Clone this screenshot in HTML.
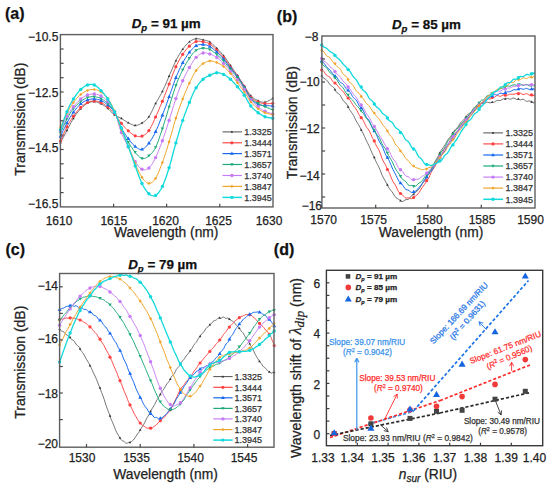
<!DOCTYPE html>
<html><head><meta charset="utf-8"><style>
html,body{margin:0;padding:0;background:#fff;}
svg{display:block;font-family:"Liberation Sans",sans-serif;}
</style></head><body>
<svg width="550" height="488" viewBox="0 0 550 488">
<rect width="550" height="488" fill="#fff"/>
<defs><clipPath id="ca"><rect x="60.5" y="34.3" width="212.2" height="173"/></clipPath><clipPath id="cb"><rect x="321.7" y="36" width="213.3" height="171.8"/></clipPath><clipPath id="cc"><rect x="59.6" y="273.5" width="214.4" height="173.6"/></clipPath></defs>
<text x="5.0" y="18.5" font-size="16.00" text-anchor="start" fill="#111" font-weight="bold" stroke="#111" stroke-width="0.25">(a)</text>
<text x="166.2" y="28.1" font-size="13.4" font-weight="bold" text-anchor="middle" fill="#111" stroke="#111" stroke-width="0.25"><tspan font-style="italic">D</tspan><tspan font-style="italic" font-size="9.6" dy="3">p</tspan><tspan dy="-3"> = 91 µm</tspan></text>
<polyline points="60.5,142.7 61.2,141.4 62.2,139.5 63.3,137.4 64.5,135.0 65.8,132.7 66.9,130.5 68.0,128.4 69.0,126.4 70.1,124.3 71.2,122.3 72.3,120.3 73.4,118.4 74.6,116.6 75.8,114.8 77.0,113.1 78.3,111.5 79.5,110.0 80.7,108.7 81.9,107.5 83.0,106.4 84.1,105.5 85.3,104.7 86.4,103.9 87.5,103.3 88.6,102.8 89.8,102.3 90.9,102.0 92.0,101.8 93.2,101.7 94.3,101.7 95.4,101.8 96.5,102.0 97.7,102.4 98.8,102.8 99.9,103.3 101.0,103.8 102.1,104.4 103.3,105.1 104.4,105.8 105.5,106.6 106.7,107.5 107.8,108.4 108.9,109.4 110.1,110.6 111.2,111.8 112.3,113.0 113.5,114.1 114.6,115.0 115.7,115.7 116.9,116.3 118.0,116.8 119.1,117.3 120.3,117.8 121.4,118.4 122.5,119.1 123.7,119.9 124.8,120.7 126.0,121.4 127.1,122.2 128.3,122.8 129.5,123.4 130.6,124.0 131.8,124.5 132.9,125.0 134.1,125.3 135.2,125.4 136.3,125.3 137.5,125.1 138.6,124.8 139.7,124.3 140.9,123.7 142.0,123.0 143.1,122.3 144.3,121.5 145.5,120.6 146.6,119.5 147.8,118.3 148.9,116.8 150.0,115.0 151.1,112.8 152.3,110.5 153.4,108.1 154.5,105.7 155.6,103.5 156.7,101.5 157.9,99.5 159.0,97.6 160.1,95.6 161.3,93.6 162.4,91.4 163.5,89.0 164.6,86.5 165.8,84.0 166.9,81.3 168.0,78.7 169.1,76.1 170.2,73.5 171.4,70.9 172.5,68.2 173.6,65.6 174.8,63.1 175.9,60.8 177.0,58.6 178.2,56.5 179.3,54.6 180.4,52.7 181.6,50.9 182.7,49.3 183.8,47.8 184.9,46.3 186.1,45.0 187.2,43.8 188.3,42.7 189.4,41.8 190.5,41.0 191.6,40.3 192.7,39.7 193.8,39.3 195.0,38.9 196.1,38.7 197.3,38.6 198.4,38.8 199.6,39.0 200.8,39.3 201.9,39.6 203.1,39.9 204.2,40.1 205.3,40.3 206.5,40.6 207.6,40.9 208.7,41.3 209.8,41.9 210.9,42.7 212.1,43.6 213.2,44.7 214.4,45.9 215.5,47.0 216.7,48.2 217.8,49.4 219.0,50.5 220.1,51.7 221.3,53.0 222.4,54.3 223.6,55.7 224.8,57.2 225.9,58.8 227.1,60.4 228.2,62.1 229.3,63.8 230.5,65.5 231.7,67.1 232.8,68.8 233.9,70.5 235.1,72.1 236.2,73.8 237.4,75.5 238.6,77.2 239.7,79.0 240.9,80.8 242.0,82.5 243.2,84.3 244.3,86.0 245.4,87.7 246.5,89.5 247.5,91.2 248.6,92.8 249.7,94.4 250.8,95.7 252.0,96.8 253.2,97.8 254.4,98.7 255.7,99.5 256.9,100.1 258.1,100.7 259.3,101.2 260.4,101.7 261.5,102.0 262.7,102.2 263.8,102.3 265.0,102.2 266.3,101.8 267.8,101.2 269.3,100.4 270.7,99.7 271.9,99.0 272.7,98.5" fill="none" stroke="#505050" stroke-width="0.80" stroke-linejoin="round" clip-path="url(#ca)"/>
<path d="M60.5 141.3l1.3 2.2h-2.6z" fill="#333"/>
<path d="M66.9 129.1l1.3 2.2h-2.6z" fill="#333"/>
<path d="M73.4 117.0l1.3 2.2h-2.6z" fill="#333"/>
<path d="M80.7 107.3l1.3 2.2h-2.6z" fill="#333"/>
<path d="M87.5 101.9l1.3 2.2h-2.6z" fill="#333"/>
<path d="M94.3 100.3l1.3 2.2h-2.6z" fill="#333"/>
<path d="M101.0 102.4l1.3 2.2h-2.6z" fill="#333"/>
<path d="M107.8 107.0l1.3 2.2h-2.6z" fill="#333"/>
<path d="M114.6 113.6l1.3 2.2h-2.6z" fill="#333"/>
<path d="M121.4 117.0l1.3 2.2h-2.6z" fill="#333"/>
<path d="M128.3 121.4l1.3 2.2h-2.6z" fill="#333"/>
<path d="M135.2 124.0l1.3 2.2h-2.6z" fill="#333"/>
<path d="M142.0 121.6l1.3 2.2h-2.6z" fill="#333"/>
<path d="M148.9 115.4l1.3 2.2h-2.6z" fill="#333"/>
<path d="M155.6 102.1l1.3 2.2h-2.6z" fill="#333"/>
<path d="M162.4 90.0l1.3 2.2h-2.6z" fill="#333"/>
<path d="M169.1 74.7l1.3 2.2h-2.6z" fill="#333"/>
<path d="M175.9 59.4l1.3 2.2h-2.6z" fill="#333"/>
<path d="M182.7 47.9l1.3 2.2h-2.6z" fill="#333"/>
<path d="M189.4 40.4l1.3 2.2h-2.6z" fill="#333"/>
<path d="M196.1 37.3l1.3 2.2h-2.6z" fill="#333"/>
<path d="M203.1 38.5l1.3 2.2h-2.6z" fill="#333"/>
<path d="M209.8 40.5l1.3 2.2h-2.6z" fill="#333"/>
<path d="M216.7 46.8l1.3 2.2h-2.6z" fill="#333"/>
<path d="M223.6 54.3l1.3 2.2h-2.6z" fill="#333"/>
<path d="M230.5 64.1l1.3 2.2h-2.6z" fill="#333"/>
<path d="M237.4 74.1l1.3 2.2h-2.6z" fill="#333"/>
<path d="M244.3 84.6l1.3 2.2h-2.6z" fill="#333"/>
<path d="M250.8 94.3l1.3 2.2h-2.6z" fill="#333"/>
<path d="M258.1 99.3l1.3 2.2h-2.6z" fill="#333"/>
<path d="M265.0 100.8l1.3 2.2h-2.6z" fill="#333"/>
<path d="M272.7 97.1l1.3 2.2h-2.6z" fill="#333"/>
<polyline points="60.5,141.0 61.2,139.4 62.2,137.2 63.3,134.6 64.5,131.8 65.8,129.1 66.9,126.8 68.0,124.8 69.0,122.9 70.1,121.2 71.2,119.5 72.3,117.8 73.4,116.2 74.6,114.6 75.8,113.0 77.0,111.4 78.3,110.0 79.5,108.6 80.7,107.4 81.9,106.3 83.0,105.4 84.1,104.5 85.3,103.7 86.4,103.1 87.5,102.5 88.6,102.0 89.8,101.6 90.9,101.3 92.0,101.2 93.2,101.0 94.3,101.0 95.4,101.0 96.5,101.2 97.7,101.4 98.8,101.7 99.9,102.0 101.0,102.5 102.1,103.1 103.3,103.7 104.4,104.4 105.5,105.2 106.7,106.1 107.8,107.0 108.9,107.9 110.1,108.9 111.2,109.9 112.3,111.0 113.5,112.2 114.6,113.5 115.7,115.0 116.9,116.6 118.0,118.3 119.1,120.1 120.3,121.8 121.4,123.3 122.5,124.7 123.7,126.1 124.8,127.4 126.0,128.6 127.1,129.7 128.3,130.8 129.5,131.8 130.6,132.8 131.8,133.8 132.9,134.6 134.1,135.3 135.2,135.8 136.3,136.2 137.5,136.5 138.6,136.6 139.7,136.6 140.9,136.4 142.0,136.1 143.1,135.6 144.3,135.0 145.5,134.2 146.6,133.2 147.8,132.1 148.9,130.6 150.0,128.8 151.1,126.7 152.3,124.4 153.4,122.0 154.5,119.5 155.6,117.0 156.7,114.5 157.9,112.0 159.0,109.4 160.1,106.7 161.3,104.0 162.4,101.3 163.5,98.5 164.6,95.7 165.8,92.7 166.9,89.8 168.0,86.9 169.1,84.0 170.2,81.1 171.4,78.1 172.5,75.0 173.6,72.1 174.8,69.3 175.9,66.7 177.0,64.3 178.2,62.0 179.3,59.9 180.4,57.9 181.6,56.1 182.7,54.3 183.8,52.7 184.9,51.2 186.1,49.8 187.2,48.5 188.3,47.3 189.4,46.2 190.5,45.2 191.6,44.2 192.7,43.3 193.8,42.6 195.0,42.0 196.1,41.5 197.3,41.2 198.4,41.2 199.6,41.2 200.8,41.4 201.9,41.6 203.1,41.8 204.2,42.0 205.3,42.3 206.5,42.5 207.6,42.9 208.7,43.4 209.8,44.0 210.9,44.8 212.1,45.7 213.2,46.7 214.4,47.7 215.5,48.9 216.7,50.0 217.8,51.1 219.0,52.3 220.1,53.5 221.3,54.8 222.4,56.1 223.6,57.5 224.8,59.0 225.9,60.5 227.1,62.2 228.2,63.8 229.3,65.4 230.5,67.0 231.7,68.5 232.8,70.0 233.9,71.4 235.1,72.9 236.2,74.4 237.4,76.0 238.6,77.7 239.7,79.4 240.9,81.1 242.0,82.9 243.2,84.7 244.3,86.5 245.4,88.4 246.5,90.3 247.5,92.3 248.6,94.1 249.7,95.8 250.8,97.3 252.0,98.5 253.2,99.4 254.4,100.2 255.7,100.9 256.9,101.5 258.1,102.0 259.3,102.5 260.4,102.9 261.5,103.2 262.7,103.4 263.8,103.6 265.0,103.7 266.3,103.8 267.8,103.7 269.3,103.6 270.7,103.5 271.9,103.4 272.7,103.3" fill="none" stroke="#ff4040" stroke-width="0.95" stroke-linejoin="round" clip-path="url(#ca)"/>
<circle cx="60.5" cy="141.0" r="1.6" fill="#ff4040"/>
<circle cx="66.9" cy="126.8" r="1.6" fill="#ff4040"/>
<circle cx="73.4" cy="116.2" r="1.6" fill="#ff4040"/>
<circle cx="80.7" cy="107.4" r="1.6" fill="#ff4040"/>
<circle cx="87.5" cy="102.5" r="1.6" fill="#ff4040"/>
<circle cx="94.3" cy="101.0" r="1.6" fill="#ff4040"/>
<circle cx="101.0" cy="102.5" r="1.6" fill="#ff4040"/>
<circle cx="107.8" cy="107.0" r="1.6" fill="#ff4040"/>
<circle cx="114.6" cy="113.5" r="1.6" fill="#ff4040"/>
<circle cx="121.4" cy="123.3" r="1.6" fill="#ff4040"/>
<circle cx="128.3" cy="130.8" r="1.6" fill="#ff4040"/>
<circle cx="135.2" cy="135.8" r="1.6" fill="#ff4040"/>
<circle cx="142.0" cy="136.1" r="1.6" fill="#ff4040"/>
<circle cx="148.9" cy="130.6" r="1.6" fill="#ff4040"/>
<circle cx="155.6" cy="117.0" r="1.6" fill="#ff4040"/>
<circle cx="162.4" cy="101.3" r="1.6" fill="#ff4040"/>
<circle cx="169.1" cy="84.0" r="1.6" fill="#ff4040"/>
<circle cx="175.9" cy="66.7" r="1.6" fill="#ff4040"/>
<circle cx="182.7" cy="54.3" r="1.6" fill="#ff4040"/>
<circle cx="189.4" cy="46.2" r="1.6" fill="#ff4040"/>
<circle cx="196.1" cy="41.5" r="1.6" fill="#ff4040"/>
<circle cx="203.1" cy="41.8" r="1.6" fill="#ff4040"/>
<circle cx="209.8" cy="44.0" r="1.6" fill="#ff4040"/>
<circle cx="216.7" cy="50.0" r="1.6" fill="#ff4040"/>
<circle cx="223.6" cy="57.5" r="1.6" fill="#ff4040"/>
<circle cx="230.5" cy="67.0" r="1.6" fill="#ff4040"/>
<circle cx="237.4" cy="76.0" r="1.6" fill="#ff4040"/>
<circle cx="244.3" cy="86.5" r="1.6" fill="#ff4040"/>
<circle cx="250.8" cy="97.3" r="1.6" fill="#ff4040"/>
<circle cx="258.1" cy="102.0" r="1.6" fill="#ff4040"/>
<circle cx="265.0" cy="103.7" r="1.6" fill="#ff4040"/>
<circle cx="272.7" cy="103.3" r="1.6" fill="#ff4040"/>
<polyline points="60.5,136.3 61.2,134.8 62.2,132.8 63.3,130.3 64.5,127.7 65.8,125.2 66.9,123.0 68.0,121.0 69.0,119.2 70.1,117.3 71.2,115.6 72.3,113.9 73.4,112.3 74.6,110.7 75.8,109.2 77.0,107.7 78.3,106.3 79.5,105.0 80.7,103.9 81.9,103.0 83.0,102.2 84.1,101.5 85.3,100.9 86.4,100.4 87.5,100.0 88.6,99.6 89.8,99.4 90.9,99.2 92.0,99.0 93.2,99.0 94.3,99.0 95.4,99.1 96.5,99.2 97.7,99.4 98.8,99.7 99.9,100.0 101.0,100.5 102.1,101.0 103.3,101.7 104.4,102.4 105.5,103.2 106.7,104.0 107.8,105.0 108.9,106.0 110.1,107.0 111.2,108.1 112.3,109.3 113.5,110.8 114.6,112.5 115.7,114.7 116.9,117.3 118.0,120.0 119.1,122.9 120.3,125.6 121.4,128.0 122.5,130.1 123.7,132.0 124.8,133.8 126.0,135.5 127.1,137.1 128.3,138.7 129.5,140.2 130.6,141.7 131.8,143.1 132.9,144.4 134.1,145.5 135.2,146.5 136.3,147.4 137.5,148.2 138.6,148.8 139.7,149.3 140.9,149.5 142.0,149.4 143.1,149.0 144.3,148.2 145.5,147.2 146.6,146.0 147.8,144.6 148.9,143.2 150.0,141.6 151.1,139.9 152.3,138.1 153.4,136.1 154.5,134.0 155.6,131.7 156.7,129.3 157.9,126.6 159.0,123.9 160.1,121.0 161.3,118.1 162.4,115.2 163.5,112.3 164.6,109.2 165.8,106.2 166.9,103.1 168.0,99.9 169.1,96.8 170.2,93.6 171.4,90.3 172.5,87.0 173.6,83.8 174.8,80.6 175.9,77.7 177.0,74.9 178.2,72.3 179.3,69.7 180.4,67.3 181.6,65.0 182.7,62.8 183.8,60.8 184.9,58.9 186.1,57.1 187.2,55.4 188.3,53.9 189.4,52.4 190.5,51.0 191.6,49.7 192.7,48.5 193.8,47.4 195.0,46.4 196.1,45.7 197.3,45.2 198.4,44.8 199.6,44.6 200.8,44.5 201.9,44.5 203.1,44.6 204.2,44.7 205.3,44.9 206.5,45.1 207.6,45.5 208.7,45.9 209.8,46.5 210.9,47.2 212.1,48.0 213.2,48.9 214.4,49.9 215.5,51.0 216.7,52.0 217.8,53.1 219.0,54.1 220.1,55.3 221.3,56.5 222.4,57.7 223.6,59.0 224.8,60.4 225.9,61.9 227.1,63.4 228.2,65.0 229.3,66.5 230.5,68.0 231.7,69.4 232.8,70.8 233.9,72.1 235.1,73.5 236.2,75.0 237.4,76.5 238.6,78.2 239.7,79.9 240.9,81.7 242.0,83.6 243.2,85.5 244.3,87.3 245.4,89.2 246.5,91.2 247.5,93.2 248.6,95.1 249.7,96.9 250.8,98.5 252.0,99.9 253.2,101.1 254.4,102.1 255.7,103.1 256.9,103.8 258.1,104.5 259.3,105.0 260.4,105.2 261.5,105.3 262.7,105.4 263.8,105.4 265.0,105.5 266.3,105.6 267.8,105.7 269.3,105.8 270.7,105.9 271.9,106.0 272.7,106.0" fill="none" stroke="#1769f0" stroke-width="1.00" stroke-linejoin="round" clip-path="url(#ca)"/>
<path d="M60.5 134.2l2.0 3.3h-3.9z" fill="#1769f0"/>
<path d="M66.9 120.9l2.0 3.3h-3.9z" fill="#1769f0"/>
<path d="M73.4 110.2l2.0 3.3h-3.9z" fill="#1769f0"/>
<path d="M80.7 101.8l2.0 3.3h-3.9z" fill="#1769f0"/>
<path d="M87.5 97.9l2.0 3.3h-3.9z" fill="#1769f0"/>
<path d="M94.3 96.9l2.0 3.3h-3.9z" fill="#1769f0"/>
<path d="M101.0 98.4l2.0 3.3h-3.9z" fill="#1769f0"/>
<path d="M107.8 102.9l2.0 3.3h-3.9z" fill="#1769f0"/>
<path d="M114.6 110.4l2.0 3.3h-3.9z" fill="#1769f0"/>
<path d="M121.4 125.9l2.0 3.3h-3.9z" fill="#1769f0"/>
<path d="M128.3 136.6l2.0 3.3h-3.9z" fill="#1769f0"/>
<path d="M135.2 144.4l2.0 3.3h-3.9z" fill="#1769f0"/>
<path d="M142.0 147.3l2.0 3.3h-3.9z" fill="#1769f0"/>
<path d="M148.9 141.1l2.0 3.3h-3.9z" fill="#1769f0"/>
<path d="M155.6 129.6l2.0 3.3h-3.9z" fill="#1769f0"/>
<path d="M162.4 113.1l2.0 3.3h-3.9z" fill="#1769f0"/>
<path d="M169.1 94.7l2.0 3.3h-3.9z" fill="#1769f0"/>
<path d="M175.9 75.6l2.0 3.3h-3.9z" fill="#1769f0"/>
<path d="M182.7 60.7l2.0 3.3h-3.9z" fill="#1769f0"/>
<path d="M189.4 50.3l2.0 3.3h-3.9z" fill="#1769f0"/>
<path d="M196.1 43.6l2.0 3.3h-3.9z" fill="#1769f0"/>
<path d="M203.1 42.5l2.0 3.3h-3.9z" fill="#1769f0"/>
<path d="M209.8 44.4l2.0 3.3h-3.9z" fill="#1769f0"/>
<path d="M216.7 49.9l2.0 3.3h-3.9z" fill="#1769f0"/>
<path d="M223.6 56.9l2.0 3.3h-3.9z" fill="#1769f0"/>
<path d="M230.5 65.9l2.0 3.3h-3.9z" fill="#1769f0"/>
<path d="M237.4 74.4l2.0 3.3h-3.9z" fill="#1769f0"/>
<path d="M244.3 85.2l2.0 3.3h-3.9z" fill="#1769f0"/>
<path d="M250.8 96.4l2.0 3.3h-3.9z" fill="#1769f0"/>
<path d="M258.1 102.4l2.0 3.3h-3.9z" fill="#1769f0"/>
<path d="M265.0 103.4l2.0 3.3h-3.9z" fill="#1769f0"/>
<path d="M272.7 103.9l2.0 3.3h-3.9z" fill="#1769f0"/>
<polyline points="60.5,132.8 61.2,131.2 62.2,129.1 63.3,126.5 64.5,123.8 65.8,121.2 66.9,118.9 68.0,117.0 69.0,115.1 70.1,113.4 71.2,111.7 72.3,110.2 73.4,108.7 74.6,107.3 75.8,106.0 77.0,104.7 78.3,103.6 79.5,102.5 80.7,101.5 81.9,100.6 83.0,99.8 84.1,99.1 85.3,98.5 86.4,97.9 87.5,97.5 88.6,97.2 89.8,96.9 90.9,96.8 92.0,96.7 93.2,96.7 94.3,96.8 95.4,96.9 96.5,97.1 97.7,97.3 98.8,97.6 99.9,98.0 101.0,98.5 102.1,99.1 103.3,99.8 104.4,100.6 105.5,101.5 106.7,102.4 107.8,103.5 108.9,104.6 110.1,105.7 111.2,106.9 112.3,108.3 113.5,110.0 114.6,112.0 115.7,114.5 116.9,117.5 118.0,120.8 119.1,124.1 120.3,127.2 121.4,130.0 122.5,132.4 123.7,134.6 124.8,136.6 126.0,138.5 127.1,140.4 128.3,142.2 129.5,144.1 130.6,145.9 131.8,147.6 132.9,149.3 134.1,150.9 135.2,152.3 136.3,153.7 137.5,155.0 138.6,156.2 139.7,157.2 140.9,158.0 142.0,158.5 143.1,158.6 144.3,158.5 145.5,158.1 146.6,157.5 147.8,156.7 148.9,155.8 150.0,154.8 151.1,153.8 152.3,152.6 153.4,151.2 154.5,149.5 155.6,147.4 156.7,144.9 157.9,142.0 159.0,138.9 160.1,135.5 161.3,132.1 162.4,128.7 163.5,125.2 164.6,121.6 165.8,118.0 166.9,114.3 168.0,110.5 169.1,106.9 170.2,103.2 171.4,99.5 172.5,95.8 173.6,92.2 174.8,88.7 175.9,85.5 177.0,82.5 178.2,79.7 179.3,77.1 180.4,74.6 181.6,72.2 182.7,69.9 183.8,67.7 184.9,65.6 186.1,63.6 187.2,61.7 188.3,59.9 189.4,58.2 190.5,56.6 191.6,55.1 192.7,53.7 193.8,52.4 195.0,51.3 196.1,50.4 197.3,49.7 198.4,49.2 199.6,48.8 200.8,48.5 201.9,48.4 203.1,48.3 204.2,48.3 205.3,48.3 206.5,48.5 207.6,48.7 208.7,49.0 209.8,49.5 210.9,50.1 212.1,50.8 213.2,51.7 214.4,52.6 215.5,53.5 216.7,54.5 217.8,55.5 219.0,56.5 220.1,57.5 221.3,58.6 222.4,59.8 223.6,61.0 224.8,62.3 225.9,63.7 227.1,65.2 228.2,66.6 229.3,68.1 230.5,69.5 231.7,70.8 232.8,72.1 233.9,73.4 235.1,74.7 236.2,76.0 237.4,77.5 238.6,79.1 239.7,80.8 240.9,82.6 242.0,84.4 243.2,86.2 244.3,88.0 245.4,89.8 246.5,91.8 247.5,93.7 248.6,95.6 249.7,97.3 250.8,98.7 252.0,99.8 253.2,100.7 254.4,101.5 255.7,102.1 256.9,102.7 258.1,103.3 259.3,103.9 260.4,104.5 261.5,105.1 262.7,105.6 263.8,106.2 265.0,106.7 266.3,107.3 267.8,107.9 269.3,108.6 270.7,109.1 271.9,109.6 272.7,110.0" fill="none" stroke="#1faa78" stroke-width="1.00" stroke-linejoin="round" clip-path="url(#ca)"/>
<path d="M58.8 131.6h3.4l-1.7 2.9z" fill="#1faa78"/>
<path d="M65.2 117.7h3.4l-1.7 2.9z" fill="#1faa78"/>
<path d="M71.7 107.5h3.4l-1.7 2.9z" fill="#1faa78"/>
<path d="M79.0 100.3h3.4l-1.7 2.9z" fill="#1faa78"/>
<path d="M85.8 96.3h3.4l-1.7 2.9z" fill="#1faa78"/>
<path d="M92.6 95.6h3.4l-1.7 2.9z" fill="#1faa78"/>
<path d="M99.3 97.3h3.4l-1.7 2.9z" fill="#1faa78"/>
<path d="M106.1 102.3h3.4l-1.7 2.9z" fill="#1faa78"/>
<path d="M112.9 110.8h3.4l-1.7 2.9z" fill="#1faa78"/>
<path d="M119.7 128.8h3.4l-1.7 2.9z" fill="#1faa78"/>
<path d="M126.6 141.0h3.4l-1.7 2.9z" fill="#1faa78"/>
<path d="M133.5 151.1h3.4l-1.7 2.9z" fill="#1faa78"/>
<path d="M140.3 157.3h3.4l-1.7 2.9z" fill="#1faa78"/>
<path d="M147.2 154.6h3.4l-1.7 2.9z" fill="#1faa78"/>
<path d="M153.9 146.2h3.4l-1.7 2.9z" fill="#1faa78"/>
<path d="M160.7 127.5h3.4l-1.7 2.9z" fill="#1faa78"/>
<path d="M167.4 105.7h3.4l-1.7 2.9z" fill="#1faa78"/>
<path d="M174.2 84.3h3.4l-1.7 2.9z" fill="#1faa78"/>
<path d="M181.0 68.7h3.4l-1.7 2.9z" fill="#1faa78"/>
<path d="M187.7 57.0h3.4l-1.7 2.9z" fill="#1faa78"/>
<path d="M194.4 49.2h3.4l-1.7 2.9z" fill="#1faa78"/>
<path d="M201.4 47.1h3.4l-1.7 2.9z" fill="#1faa78"/>
<path d="M208.1 48.3h3.4l-1.7 2.9z" fill="#1faa78"/>
<path d="M215.0 53.3h3.4l-1.7 2.9z" fill="#1faa78"/>
<path d="M221.9 59.8h3.4l-1.7 2.9z" fill="#1faa78"/>
<path d="M228.8 68.3h3.4l-1.7 2.9z" fill="#1faa78"/>
<path d="M235.7 76.3h3.4l-1.7 2.9z" fill="#1faa78"/>
<path d="M242.6 86.8h3.4l-1.7 2.9z" fill="#1faa78"/>
<path d="M249.1 97.5h3.4l-1.7 2.9z" fill="#1faa78"/>
<path d="M256.4 102.1h3.4l-1.7 2.9z" fill="#1faa78"/>
<path d="M263.3 105.5h3.4l-1.7 2.9z" fill="#1faa78"/>
<path d="M271.0 108.8h3.4l-1.7 2.9z" fill="#1faa78"/>
<polyline points="60.5,130.5 61.2,128.9 62.2,126.7 63.3,124.1 64.5,121.3 65.8,118.7 66.9,116.4 68.0,114.5 69.0,112.8 70.1,111.2 71.2,109.6 72.3,108.2 73.4,106.7 74.6,105.3 75.8,103.8 77.0,102.5 78.3,101.2 79.5,100.0 80.7,99.0 81.9,98.1 83.0,97.3 84.1,96.6 85.3,96.0 86.4,95.5 87.5,95.0 88.6,94.6 89.8,94.3 90.9,94.1 92.0,94.0 93.2,94.0 94.3,94.0 95.4,94.1 96.5,94.3 97.7,94.6 98.8,95.0 99.9,95.4 101.0,96.0 102.1,96.7 103.3,97.4 104.4,98.2 105.5,99.2 106.7,100.3 107.8,101.5 108.9,102.8 110.1,104.1 111.2,105.5 112.3,107.2 113.5,109.1 114.6,111.5 115.7,114.4 116.9,117.9 118.0,121.7 119.1,125.6 120.3,129.2 121.4,132.5 122.5,135.3 123.7,137.8 124.8,140.2 126.0,142.4 127.1,144.7 128.3,147.0 129.5,149.5 130.6,152.1 131.8,154.7 132.9,157.2 134.1,159.6 135.2,161.6 136.3,163.4 137.5,165.0 138.6,166.4 139.7,167.7 140.9,168.6 142.0,169.3 143.1,169.7 144.3,169.9 145.5,169.8 146.6,169.4 147.8,168.8 148.9,168.0 150.0,166.9 151.1,165.4 152.3,163.8 153.4,161.9 154.5,159.8 155.6,157.6 156.7,155.2 157.9,152.6 159.0,149.8 160.1,146.8 161.3,143.8 162.4,140.7 163.5,137.5 164.6,134.2 165.8,130.9 166.9,127.4 168.0,123.9 169.1,120.4 170.2,116.8 171.4,113.1 172.5,109.3 173.6,105.6 174.8,102.0 175.9,98.6 177.0,95.3 178.2,92.2 179.3,89.2 180.4,86.3 181.6,83.5 182.7,80.8 183.8,78.3 184.9,75.9 186.1,73.7 187.2,71.5 188.3,69.5 189.4,67.5 190.5,65.6 191.6,63.7 192.7,61.9 193.8,60.2 195.0,58.7 196.1,57.4 197.3,56.3 198.4,55.3 199.6,54.5 200.8,53.9 201.9,53.4 203.1,53.0 204.2,52.8 205.3,52.8 206.5,53.0 207.6,53.3 208.7,53.6 209.8,54.0 210.9,54.4 212.1,54.9 213.2,55.4 214.4,56.1 215.5,56.7 216.7,57.5 217.8,58.3 219.0,59.2 220.1,60.2 221.3,61.3 222.4,62.4 223.6,63.5 224.8,64.7 225.9,66.0 227.1,67.3 228.2,68.7 229.3,70.1 230.5,71.5 231.7,72.9 232.8,74.3 233.9,75.7 235.1,77.1 236.2,78.5 237.4,80.0 238.6,81.5 239.7,83.1 240.9,84.6 242.0,86.2 243.2,87.8 244.3,89.5 245.4,91.2 246.5,93.1 247.5,94.9 248.6,96.7 249.7,98.5 250.8,100.0 252.0,101.4 253.2,102.6 254.4,103.7 255.7,104.8 256.9,105.7 258.1,106.7 259.3,107.6 260.4,108.5 261.5,109.3 262.7,110.0 263.8,110.7 265.0,111.3 266.3,111.9 267.8,112.4 269.3,112.9 270.7,113.4 271.9,113.7 272.7,114.0" fill="none" stroke="#c77af5" stroke-width="0.95" stroke-linejoin="round" clip-path="url(#ca)"/>
<circle cx="60.5" cy="130.5" r="1.7" fill="#c77af5"/>
<circle cx="66.9" cy="116.4" r="1.7" fill="#c77af5"/>
<circle cx="73.4" cy="106.7" r="1.7" fill="#c77af5"/>
<circle cx="80.7" cy="99.0" r="1.7" fill="#c77af5"/>
<circle cx="87.5" cy="95.0" r="1.7" fill="#c77af5"/>
<circle cx="94.3" cy="94.0" r="1.7" fill="#c77af5"/>
<circle cx="101.0" cy="96.0" r="1.7" fill="#c77af5"/>
<circle cx="107.8" cy="101.5" r="1.7" fill="#c77af5"/>
<circle cx="114.6" cy="111.5" r="1.7" fill="#c77af5"/>
<circle cx="121.4" cy="132.5" r="1.7" fill="#c77af5"/>
<circle cx="128.3" cy="147.0" r="1.7" fill="#c77af5"/>
<circle cx="135.2" cy="161.6" r="1.7" fill="#c77af5"/>
<circle cx="142.0" cy="169.3" r="1.7" fill="#c77af5"/>
<circle cx="148.9" cy="168.0" r="1.7" fill="#c77af5"/>
<circle cx="155.6" cy="157.6" r="1.7" fill="#c77af5"/>
<circle cx="162.4" cy="140.7" r="1.7" fill="#c77af5"/>
<circle cx="169.1" cy="120.4" r="1.7" fill="#c77af5"/>
<circle cx="175.9" cy="98.6" r="1.7" fill="#c77af5"/>
<circle cx="182.7" cy="80.8" r="1.7" fill="#c77af5"/>
<circle cx="189.4" cy="67.5" r="1.7" fill="#c77af5"/>
<circle cx="196.1" cy="57.4" r="1.7" fill="#c77af5"/>
<circle cx="203.1" cy="53.0" r="1.7" fill="#c77af5"/>
<circle cx="209.8" cy="54.0" r="1.7" fill="#c77af5"/>
<circle cx="216.7" cy="57.5" r="1.7" fill="#c77af5"/>
<circle cx="223.6" cy="63.5" r="1.7" fill="#c77af5"/>
<circle cx="230.5" cy="71.5" r="1.7" fill="#c77af5"/>
<circle cx="237.4" cy="80.0" r="1.7" fill="#c77af5"/>
<circle cx="244.3" cy="89.5" r="1.7" fill="#c77af5"/>
<circle cx="250.8" cy="100.0" r="1.7" fill="#c77af5"/>
<circle cx="258.1" cy="106.7" r="1.7" fill="#c77af5"/>
<circle cx="265.0" cy="111.3" r="1.7" fill="#c77af5"/>
<circle cx="272.7" cy="114.0" r="1.7" fill="#c77af5"/>
<polyline points="60.5,127.4 61.2,125.9 62.2,123.7 63.3,121.1 64.5,118.4 65.8,115.8 66.9,113.5 68.0,111.5 69.0,109.5 70.1,107.6 71.2,105.8 72.3,104.1 73.4,102.5 74.6,100.9 75.8,99.5 77.0,98.1 78.3,96.8 79.5,95.6 80.7,94.5 81.9,93.6 83.0,92.8 84.1,92.1 85.3,91.5 86.4,90.9 87.5,90.5 88.6,90.1 89.8,89.8 90.9,89.6 92.0,89.5 93.2,89.4 94.3,89.5 95.4,89.7 96.5,89.9 97.7,90.3 98.8,90.7 99.9,91.3 101.0,92.0 102.1,92.8 103.3,93.6 104.4,94.6 105.5,95.7 106.7,97.0 107.8,98.5 108.9,100.2 110.1,102.0 111.2,104.0 112.3,106.2 113.5,108.5 114.6,111.0 115.7,113.8 116.9,116.8 118.0,120.0 119.1,123.3 120.3,126.5 121.4,129.5 122.5,132.4 123.7,135.1 124.8,137.8 126.0,140.5 127.1,143.2 128.3,146.0 129.5,148.9 130.6,151.9 131.8,154.9 132.9,157.9 134.1,160.8 135.2,163.5 136.3,166.1 137.5,168.7 138.6,171.2 139.7,173.5 140.9,175.6 142.0,177.4 143.1,179.0 144.3,180.4 145.5,181.6 146.6,182.5 147.8,183.1 148.9,183.4 150.0,183.3 151.1,182.9 152.3,182.2 153.4,181.2 154.5,179.9 155.6,178.3 156.7,176.3 157.9,174.0 159.0,171.4 160.1,168.5 161.3,165.5 162.4,162.5 163.5,159.4 164.6,156.1 165.8,152.6 166.9,149.1 168.0,145.5 169.1,141.8 170.2,138.0 171.4,134.0 172.5,129.9 173.6,125.8 174.8,121.9 175.9,118.2 177.0,114.7 178.2,111.4 179.3,108.1 180.4,105.0 181.6,102.0 182.7,99.0 183.8,96.1 184.9,93.3 186.1,90.6 187.2,88.0 188.3,85.5 189.4,83.1 190.5,80.8 191.6,78.5 192.7,76.3 193.8,74.2 195.0,72.3 196.1,70.6 197.3,69.1 198.4,67.7 199.6,66.5 200.8,65.4 201.9,64.4 203.1,63.6 204.2,62.9 205.3,62.3 206.5,61.8 207.6,61.4 208.7,61.1 209.8,61.0 210.9,61.0 212.1,61.1 213.2,61.3 214.4,61.7 215.5,62.1 216.7,62.5 217.8,63.0 219.0,63.5 220.1,64.2 221.3,64.9 222.4,65.6 223.6,66.5 224.8,67.5 225.9,68.5 227.1,69.7 228.2,70.9 229.3,72.2 230.5,73.5 231.7,74.9 232.8,76.4 233.9,78.0 235.1,79.5 236.2,81.1 237.4,82.7 238.6,84.2 239.7,85.8 240.9,87.3 242.0,88.8 243.2,90.4 244.3,92.0 245.4,93.7 246.5,95.4 247.5,97.2 248.6,98.9 249.7,100.5 250.8,102.0 252.0,103.3 253.2,104.6 254.4,105.7 255.7,106.8 256.9,107.8 258.1,108.7 259.3,109.5 260.4,110.3 261.5,111.0 262.7,111.6 263.8,112.2 265.0,112.7 266.3,113.2 267.8,113.6 269.3,114.0 270.7,114.3 271.9,114.5 272.7,114.7" fill="none" stroke="#f0a42a" stroke-width="1.00" stroke-linejoin="round" clip-path="url(#ca)"/>
<path d="M60.5 125.8l1.6 1.6l-1.6 1.6l-1.6 -1.6z" fill="#f0a42a"/>
<path d="M66.9 111.9l1.6 1.6l-1.6 1.6l-1.6 -1.6z" fill="#f0a42a"/>
<path d="M73.4 100.9l1.6 1.6l-1.6 1.6l-1.6 -1.6z" fill="#f0a42a"/>
<path d="M80.7 92.9l1.6 1.6l-1.6 1.6l-1.6 -1.6z" fill="#f0a42a"/>
<path d="M87.5 88.9l1.6 1.6l-1.6 1.6l-1.6 -1.6z" fill="#f0a42a"/>
<path d="M94.3 87.9l1.6 1.6l-1.6 1.6l-1.6 -1.6z" fill="#f0a42a"/>
<path d="M101.0 90.4l1.6 1.6l-1.6 1.6l-1.6 -1.6z" fill="#f0a42a"/>
<path d="M107.8 96.9l1.6 1.6l-1.6 1.6l-1.6 -1.6z" fill="#f0a42a"/>
<path d="M114.6 109.4l1.6 1.6l-1.6 1.6l-1.6 -1.6z" fill="#f0a42a"/>
<path d="M121.4 127.9l1.6 1.6l-1.6 1.6l-1.6 -1.6z" fill="#f0a42a"/>
<path d="M128.3 144.4l1.6 1.6l-1.6 1.6l-1.6 -1.6z" fill="#f0a42a"/>
<path d="M135.2 161.9l1.6 1.6l-1.6 1.6l-1.6 -1.6z" fill="#f0a42a"/>
<path d="M142.0 175.8l1.6 1.6l-1.6 1.6l-1.6 -1.6z" fill="#f0a42a"/>
<path d="M148.9 181.8l1.6 1.6l-1.6 1.6l-1.6 -1.6z" fill="#f0a42a"/>
<path d="M155.6 176.7l1.6 1.6l-1.6 1.6l-1.6 -1.6z" fill="#f0a42a"/>
<path d="M162.4 160.9l1.6 1.6l-1.6 1.6l-1.6 -1.6z" fill="#f0a42a"/>
<path d="M169.1 140.2l1.6 1.6l-1.6 1.6l-1.6 -1.6z" fill="#f0a42a"/>
<path d="M175.9 116.6l1.6 1.6l-1.6 1.6l-1.6 -1.6z" fill="#f0a42a"/>
<path d="M182.7 97.4l1.6 1.6l-1.6 1.6l-1.6 -1.6z" fill="#f0a42a"/>
<path d="M189.4 81.5l1.6 1.6l-1.6 1.6l-1.6 -1.6z" fill="#f0a42a"/>
<path d="M196.1 69.0l1.6 1.6l-1.6 1.6l-1.6 -1.6z" fill="#f0a42a"/>
<path d="M203.1 62.0l1.6 1.6l-1.6 1.6l-1.6 -1.6z" fill="#f0a42a"/>
<path d="M209.8 59.4l1.6 1.6l-1.6 1.6l-1.6 -1.6z" fill="#f0a42a"/>
<path d="M216.7 60.9l1.6 1.6l-1.6 1.6l-1.6 -1.6z" fill="#f0a42a"/>
<path d="M223.6 64.9l1.6 1.6l-1.6 1.6l-1.6 -1.6z" fill="#f0a42a"/>
<path d="M230.5 71.9l1.6 1.6l-1.6 1.6l-1.6 -1.6z" fill="#f0a42a"/>
<path d="M237.4 81.1l1.6 1.6l-1.6 1.6l-1.6 -1.6z" fill="#f0a42a"/>
<path d="M244.3 90.4l1.6 1.6l-1.6 1.6l-1.6 -1.6z" fill="#f0a42a"/>
<path d="M250.8 100.4l1.6 1.6l-1.6 1.6l-1.6 -1.6z" fill="#f0a42a"/>
<path d="M258.1 107.1l1.6 1.6l-1.6 1.6l-1.6 -1.6z" fill="#f0a42a"/>
<path d="M265.0 111.1l1.6 1.6l-1.6 1.6l-1.6 -1.6z" fill="#f0a42a"/>
<path d="M272.7 113.1l1.6 1.6l-1.6 1.6l-1.6 -1.6z" fill="#f0a42a"/>
<polyline points="60.5,129.7 61.2,127.7 62.2,124.9 63.3,121.6 64.5,118.1 65.8,114.7 66.9,111.8 68.0,109.3 69.0,107.0 70.1,104.8 71.2,102.8 72.3,100.8 73.4,98.9 74.6,97.1 75.8,95.3 77.0,93.7 78.3,92.1 79.5,90.7 80.7,89.5 81.9,88.4 83.0,87.5 84.1,86.7 85.3,86.0 86.4,85.4 87.5,85.0 88.6,84.7 89.8,84.5 90.9,84.4 92.0,84.4 93.2,84.6 94.3,85.0 95.4,85.6 96.5,86.3 97.7,87.3 98.8,88.3 99.9,89.4 101.0,90.6 102.1,91.8 103.3,93.0 104.4,94.3 105.5,95.8 106.7,97.3 107.8,99.0 108.9,100.9 110.1,102.9 111.2,105.0 112.3,107.3 113.5,109.6 114.6,112.0 115.7,114.5 116.9,117.0 118.0,119.7 119.1,122.4 120.3,125.2 121.4,128.0 122.5,130.9 123.7,133.9 124.8,137.0 126.0,140.2 127.1,143.3 128.3,146.5 129.5,149.7 130.6,153.0 131.8,156.3 132.9,159.5 134.1,162.8 135.2,165.9 136.3,169.0 137.5,172.2 138.6,175.3 139.7,178.2 140.9,181.0 142.0,183.5 143.1,185.7 144.3,187.8 145.5,189.6 146.6,191.2 147.8,192.6 148.9,193.7 150.0,194.6 151.1,195.3 152.3,195.7 153.4,195.9 154.5,195.8 155.6,195.4 156.7,194.6 157.9,193.6 159.0,192.2 160.1,190.5 161.3,188.6 162.4,186.4 163.5,183.9 164.6,181.1 165.8,178.0 166.9,174.7 168.0,171.3 169.1,167.7 170.2,163.9 171.4,159.8 172.5,155.5 173.6,151.2 174.8,147.0 175.9,142.9 177.0,139.0 178.2,135.1 179.3,131.2 180.4,127.5 181.6,123.9 182.7,120.4 183.8,117.1 184.9,113.9 186.1,110.9 187.2,108.0 188.3,105.2 189.4,102.4 190.5,99.7 191.6,97.1 192.7,94.5 193.8,92.1 195.0,89.8 196.1,87.8 197.3,86.0 198.4,84.3 199.6,82.8 200.8,81.5 201.9,80.3 203.1,79.2 204.2,78.3 205.3,77.5 206.5,76.9 207.6,76.3 208.7,75.8 209.8,75.3 210.9,74.8 212.1,74.2 213.2,73.7 214.4,73.3 215.5,73.0 216.7,72.8 217.8,72.8 219.0,72.9 220.1,73.1 221.3,73.5 222.4,73.9 223.6,74.4 224.8,75.0 225.9,75.7 227.1,76.5 228.2,77.4 229.3,78.3 230.5,79.3 231.7,80.4 232.8,81.5 233.9,82.8 235.1,84.1 236.2,85.4 237.4,86.7 238.6,88.0 239.7,89.4 240.9,90.8 242.0,92.2 243.2,93.7 244.3,95.3 245.4,97.0 246.5,98.9 247.5,100.8 248.6,102.7 249.7,104.4 250.8,106.0 252.0,107.4 253.2,108.6 254.4,109.8 255.7,110.8 256.9,111.8 258.1,112.7 259.3,113.6 260.4,114.3 261.5,115.0 262.7,115.6 263.8,116.2 265.0,116.7 266.3,117.1 267.8,117.5 269.3,117.7 270.7,118.0 271.9,118.2 272.7,118.3" fill="none" stroke="#12d9dc" stroke-width="1.30" stroke-linejoin="round" clip-path="url(#ca)"/>
<circle cx="60.5" cy="129.7" r="1.7" fill="#12d9dc"/>
<circle cx="66.9" cy="111.8" r="1.7" fill="#12d9dc"/>
<circle cx="73.4" cy="98.9" r="1.7" fill="#12d9dc"/>
<circle cx="80.7" cy="89.5" r="1.7" fill="#12d9dc"/>
<circle cx="87.5" cy="85.0" r="1.7" fill="#12d9dc"/>
<circle cx="94.3" cy="85.0" r="1.7" fill="#12d9dc"/>
<circle cx="101.0" cy="90.6" r="1.7" fill="#12d9dc"/>
<circle cx="107.8" cy="99.0" r="1.7" fill="#12d9dc"/>
<circle cx="114.6" cy="112.0" r="1.7" fill="#12d9dc"/>
<circle cx="121.4" cy="128.0" r="1.7" fill="#12d9dc"/>
<circle cx="128.3" cy="146.5" r="1.7" fill="#12d9dc"/>
<circle cx="135.2" cy="165.9" r="1.7" fill="#12d9dc"/>
<circle cx="142.0" cy="183.5" r="1.7" fill="#12d9dc"/>
<circle cx="148.9" cy="193.7" r="1.7" fill="#12d9dc"/>
<circle cx="155.6" cy="195.4" r="1.7" fill="#12d9dc"/>
<circle cx="162.4" cy="186.4" r="1.7" fill="#12d9dc"/>
<circle cx="169.1" cy="167.7" r="1.7" fill="#12d9dc"/>
<circle cx="175.9" cy="142.9" r="1.7" fill="#12d9dc"/>
<circle cx="182.7" cy="120.4" r="1.7" fill="#12d9dc"/>
<circle cx="189.4" cy="102.4" r="1.7" fill="#12d9dc"/>
<circle cx="196.1" cy="87.8" r="1.7" fill="#12d9dc"/>
<circle cx="203.1" cy="79.2" r="1.7" fill="#12d9dc"/>
<circle cx="209.8" cy="75.3" r="1.7" fill="#12d9dc"/>
<circle cx="216.7" cy="72.8" r="1.7" fill="#12d9dc"/>
<circle cx="223.6" cy="74.4" r="1.7" fill="#12d9dc"/>
<circle cx="230.5" cy="79.3" r="1.7" fill="#12d9dc"/>
<circle cx="237.4" cy="86.7" r="1.7" fill="#12d9dc"/>
<circle cx="244.3" cy="95.3" r="1.7" fill="#12d9dc"/>
<circle cx="250.8" cy="106.0" r="1.7" fill="#12d9dc"/>
<circle cx="258.1" cy="112.7" r="1.7" fill="#12d9dc"/>
<circle cx="265.0" cy="116.7" r="1.7" fill="#12d9dc"/>
<circle cx="272.7" cy="118.3" r="1.7" fill="#12d9dc"/>
<rect x="60.4" y="34.6" width="212.6" height="172.3" fill="none" stroke="#5e5e5e" stroke-width="1.40"/>
<line x1="60.4" y1="49.0" x2="63.6" y2="49.0" stroke="#484848" stroke-width="1.20"/>
<line x1="60.4" y1="63.3" x2="63.6" y2="63.3" stroke="#484848" stroke-width="1.20"/>
<line x1="60.4" y1="77.7" x2="63.6" y2="77.7" stroke="#484848" stroke-width="1.20"/>
<line x1="60.4" y1="92.0" x2="63.6" y2="92.0" stroke="#484848" stroke-width="1.20"/>
<line x1="60.4" y1="106.4" x2="63.6" y2="106.4" stroke="#484848" stroke-width="1.20"/>
<line x1="60.4" y1="120.8" x2="63.6" y2="120.8" stroke="#484848" stroke-width="1.20"/>
<line x1="60.4" y1="135.1" x2="63.6" y2="135.1" stroke="#484848" stroke-width="1.20"/>
<line x1="60.4" y1="149.5" x2="63.6" y2="149.5" stroke="#484848" stroke-width="1.20"/>
<line x1="60.4" y1="163.8" x2="63.6" y2="163.8" stroke="#484848" stroke-width="1.20"/>
<line x1="60.4" y1="178.2" x2="63.6" y2="178.2" stroke="#484848" stroke-width="1.20"/>
<line x1="60.4" y1="192.6" x2="63.6" y2="192.6" stroke="#484848" stroke-width="1.20"/>
<line x1="113.6" y1="206.9" x2="113.6" y2="203.7" stroke="#484848" stroke-width="1.20"/>
<line x1="166.6" y1="206.9" x2="166.6" y2="203.7" stroke="#484848" stroke-width="1.20"/>
<line x1="219.8" y1="206.9" x2="219.8" y2="203.7" stroke="#484848" stroke-width="1.20"/>
<text x="58.4" y="40.7" font-size="12.00" text-anchor="end" fill="#222"  stroke="#222" stroke-width="0.25">−10.5</text>
<text x="58.4" y="96.8" font-size="12.00" text-anchor="end" fill="#222"  stroke="#222" stroke-width="0.25">−12.5</text>
<text x="58.4" y="152.4" font-size="12.00" text-anchor="end" fill="#222"  stroke="#222" stroke-width="0.25">−14.5</text>
<text x="58.4" y="207.7" font-size="12.00" text-anchor="end" fill="#222"  stroke="#222" stroke-width="0.25">−16.5</text>
<text x="59.0" y="224.6" font-size="12.00" text-anchor="middle" fill="#222"  stroke="#222" stroke-width="0.25">1610</text>
<text x="113.8" y="224.6" font-size="12.00" text-anchor="middle" fill="#222"  stroke="#222" stroke-width="0.25">1615</text>
<text x="165.5" y="224.6" font-size="12.00" text-anchor="middle" fill="#222"  stroke="#222" stroke-width="0.25">1620</text>
<text x="218.5" y="224.6" font-size="12.00" text-anchor="middle" fill="#222"  stroke="#222" stroke-width="0.25">1625</text>
<text x="269.0" y="224.6" font-size="12.00" text-anchor="middle" fill="#222"  stroke="#222" stroke-width="0.25">1630</text>
<text x="166.2" y="236.6" font-size="13.80" text-anchor="middle" fill="#222"  stroke="#222" stroke-width="0.25">Wavelength (nm)</text>
<text x="0" y="0" font-size="14.00" text-anchor="middle" fill="#222" transform="translate(24.9 119.2) rotate(-90)" stroke="#222" stroke-width="0.25">Transmission (dB)</text>
<line x1="222.5" y1="131.9" x2="242.0" y2="131.9" stroke="#505050" stroke-width="1.00"/>
<path d="M231.9 130.5l1.3 2.2h-2.6z" fill="#333"/>
<text x="244.2" y="135.1" font-size="9.0" fill="#333" stroke="#333" stroke-width="0.25">1.3325</text>
<line x1="222.5" y1="142.8" x2="242.0" y2="142.8" stroke="#ff4040" stroke-width="1.15"/>
<circle cx="231.9" cy="142.8" r="1.6" fill="#ff4040"/>
<text x="244.2" y="146.0" font-size="9.0" fill="#333" stroke="#333" stroke-width="0.25">1.3444</text>
<line x1="222.5" y1="153.6" x2="242.0" y2="153.6" stroke="#1769f0" stroke-width="1.20"/>
<path d="M231.9 151.5l2.0 3.3h-3.9z" fill="#1769f0"/>
<text x="244.2" y="156.8" font-size="9.0" fill="#333" stroke="#333" stroke-width="0.25">1.3571</text>
<line x1="222.5" y1="164.5" x2="242.0" y2="164.5" stroke="#1faa78" stroke-width="1.20"/>
<path d="M230.2 163.3h3.4l-1.7 2.9z" fill="#1faa78"/>
<text x="244.2" y="167.7" font-size="9.0" fill="#333" stroke="#333" stroke-width="0.25">1.3657</text>
<line x1="222.5" y1="175.5" x2="242.0" y2="175.5" stroke="#c77af5" stroke-width="1.15"/>
<circle cx="231.9" cy="175.5" r="1.7" fill="#c77af5"/>
<text x="244.2" y="178.7" font-size="9.0" fill="#333" stroke="#333" stroke-width="0.25">1.3740</text>
<line x1="222.5" y1="186.4" x2="242.0" y2="186.4" stroke="#f0a42a" stroke-width="1.20"/>
<path d="M231.9 184.8l1.6 1.6l-1.6 1.6l-1.6 -1.6z" fill="#f0a42a"/>
<text x="244.2" y="189.6" font-size="9.0" fill="#333" stroke="#333" stroke-width="0.25">1.3847</text>
<line x1="222.5" y1="197.4" x2="242.0" y2="197.4" stroke="#12d9dc" stroke-width="1.50"/>
<circle cx="231.9" cy="197.4" r="1.7" fill="#12d9dc"/>
<text x="244.2" y="200.6" font-size="9.0" fill="#333" stroke="#333" stroke-width="0.25">1.3945</text>
<text x="276.8" y="22.2" font-size="16.00" text-anchor="start" fill="#111" font-weight="bold" stroke="#111" stroke-width="0.25">(b)</text>
<text x="426.4" y="29.0" font-size="13.4" font-weight="bold" text-anchor="middle" fill="#111" stroke="#111" stroke-width="0.25"><tspan font-style="italic">D</tspan><tspan font-style="italic" font-size="9.6" dy="3">p</tspan><tspan dy="-3"> = 85 µm</tspan></text>
<polyline points="321.7,75.6 322.3,76.6 323.1,77.6 324.1,78.4 325.2,79.0 326.3,79.8 327.5,81.1 328.8,83.0 330.1,84.7 331.4,85.7 332.6,86.5 333.9,87.8 335.0,89.6 336.1,91.6 337.2,92.9 338.3,93.6 339.4,94.3 340.5,95.7 341.6,97.8 342.7,99.9 343.7,101.3 344.8,102.2 345.9,103.1 347.0,104.7 348.1,107.0 349.2,109.0 350.3,110.7 351.4,112.2 352.5,113.8 353.6,115.6 354.7,117.8 355.7,120.0 356.8,122.0 357.9,123.7 359.0,125.5 360.1,127.5 361.2,129.9 362.3,131.8 363.4,134.0 364.5,136.5 365.6,139.0 366.7,141.3 367.8,143.4 368.8,145.5 369.9,147.9 371.0,150.5 372.1,153.1 373.2,155.4 374.3,157.5 375.4,160.2 376.5,162.6 377.6,164.7 378.7,166.8 379.8,169.2 380.9,172.0 381.9,174.7 383.0,177.0 384.1,179.0 385.2,180.8 386.3,182.8 387.4,185.0 388.5,187.1 389.6,188.9 390.7,190.2 391.8,191.6 392.9,193.1 393.9,194.9 395.0,196.6 396.1,197.8 397.2,198.5 398.3,199.1 399.4,199.8 400.5,200.6 401.6,201.4 402.7,201.5 403.8,200.9 404.9,200.1 406.0,199.6 407.1,199.6 408.1,199.4 409.2,198.7 410.3,197.3 411.4,195.9 412.5,194.9 413.6,194.5 414.7,193.2 415.8,192.1 416.9,191.2 418.0,190.2 419.1,188.8 420.2,187.1 421.2,185.3 422.3,183.8 423.4,182.4 424.5,181.1 425.6,179.4 426.7,177.4 427.8,175.3 428.9,173.4 430.0,171.7 431.1,169.9 432.2,167.8 433.2,165.4 434.3,162.9 435.4,160.8 436.5,159.0 437.6,157.2 438.7,155.2 439.8,153.0 440.9,150.9 442.0,149.1 443.1,147.6 444.2,146.1 445.3,144.4 446.4,142.5 447.4,140.5 448.5,138.9 449.6,137.6 450.7,136.3 451.8,134.8 452.9,133.0 454.0,131.1 455.1,129.7 456.2,128.6 457.3,127.6 458.4,126.2 459.4,124.5 460.5,122.8 461.6,121.6 462.7,120.7 463.8,119.8 464.9,118.6 466.0,117.0 467.1,115.2 468.2,114.0 469.3,113.4 470.4,112.8 471.5,111.7 472.6,109.9 473.6,108.2 474.7,107.1 475.8,106.8 476.9,106.6 478.0,105.8 479.1,104.5 480.2,103.6 481.3,103.2 482.4,103.2 483.5,103.4 484.6,103.2 485.7,102.8 486.7,102.3 487.8,102.3 488.9,102.6 490.0,102.9 491.1,102.7 492.2,102.2 493.3,102.4 494.4,102.1 495.5,101.4 496.6,100.6 497.7,100.3 498.8,100.5 499.8,100.6 500.9,100.3 502.0,99.6 503.1,98.9 504.2,98.7 505.3,99.0 506.4,98.4 507.5,98.3 508.6,98.7 509.7,99.2 510.8,99.1 511.9,98.6 512.9,98.1 514.0,98.1 515.1,98.7 516.2,99.3 517.3,99.4 518.4,99.0 519.5,99.7 520.7,99.9 521.9,99.5 523.1,99.2 524.3,99.8 525.5,100.8 526.7,101.4 527.8,101.3 528.9,100.9 529.9,101.0 530.7,101.4 531.5,102.0 532.1,102.7 532.7,101.7 533.1,102.1 533.5,103.1 533.8,103.2 534.1,102.8 534.3,102.4 534.4,102.2 534.6,102.2 534.7,102.3 534.9,102.6 535.0,103.0" fill="none" stroke="#505050" stroke-width="0.80" stroke-linejoin="round" clip-path="url(#cb)"/>
<path d="M321.7 74.2l1.3 2.2h-2.6z" fill="#333"/>
<path d="M335.0 88.2l1.3 2.2h-2.6z" fill="#333"/>
<path d="M348.1 105.6l1.3 2.2h-2.6z" fill="#333"/>
<path d="M361.2 128.5l1.3 2.2h-2.6z" fill="#333"/>
<path d="M374.3 156.1l1.3 2.2h-2.6z" fill="#333"/>
<path d="M387.4 183.6l1.3 2.2h-2.6z" fill="#333"/>
<path d="M400.5 199.2l1.3 2.2h-2.6z" fill="#333"/>
<path d="M413.6 193.1l1.3 2.2h-2.6z" fill="#333"/>
<path d="M426.7 176.0l1.3 2.2h-2.6z" fill="#333"/>
<path d="M439.8 151.6l1.3 2.2h-2.6z" fill="#333"/>
<path d="M452.9 131.6l1.3 2.2h-2.6z" fill="#333"/>
<path d="M466.0 115.6l1.3 2.2h-2.6z" fill="#333"/>
<path d="M479.1 103.1l1.3 2.2h-2.6z" fill="#333"/>
<path d="M492.2 100.8l1.3 2.2h-2.6z" fill="#333"/>
<path d="M505.3 97.6l1.3 2.2h-2.6z" fill="#333"/>
<path d="M518.4 97.6l1.3 2.2h-2.6z" fill="#333"/>
<path d="M531.5 100.6l1.3 2.2h-2.6z" fill="#333"/>
<polyline points="321.7,70.0 322.3,70.3 323.1,70.8 324.1,71.8 325.2,73.4 326.3,75.0 327.5,76.0 328.8,76.5 330.1,77.4 331.4,79.1 332.6,81.1 333.9,82.4 335.0,83.0 336.1,83.9 337.2,85.0 338.3,86.5 339.4,88.0 340.5,89.2 341.6,90.1 342.7,91.0 343.7,92.3 344.8,93.9 345.9,95.5 347.0,96.9 348.1,98.0 349.2,99.2 350.3,100.7 351.4,102.5 352.5,104.4 353.6,106.0 354.7,107.3 355.7,108.7 356.8,110.4 357.9,112.4 359.0,114.5 360.1,116.2 361.2,117.7 362.3,118.9 363.4,120.8 364.5,123.1 365.6,125.5 366.7,127.4 367.8,128.7 368.8,130.1 369.9,132.1 371.0,134.6 372.1,137.2 373.2,139.3 374.3,140.9 375.4,143.7 376.5,146.0 377.6,147.8 378.7,149.6 379.8,152.1 380.9,155.2 381.9,158.2 383.0,160.7 384.1,162.5 385.2,164.3 386.3,166.7 387.4,169.5 388.5,171.2 389.6,173.4 390.7,176.3 391.8,179.1 392.9,181.4 393.9,183.0 395.0,184.6 396.1,186.6 397.2,189.0 398.3,191.3 399.4,192.8 400.5,193.5 401.6,194.2 402.7,195.1 403.8,196.4 404.9,197.5 406.0,198.1 407.1,198.0 408.1,197.9 409.2,198.0 410.3,198.4 411.4,198.7 412.5,198.4 413.6,197.5 414.7,196.6 415.8,195.8 416.9,194.9 418.0,193.9 419.1,192.5 420.2,190.8 421.2,189.0 422.3,187.4 423.4,185.9 424.5,184.4 425.6,182.6 426.7,180.7 427.8,179.6 428.9,177.8 430.0,175.2 431.1,172.5 432.2,170.5 433.2,169.0 434.3,167.6 435.4,165.6 436.5,162.8 437.6,160.1 438.7,158.2 439.8,157.0 440.9,155.7 442.0,154.0 443.1,151.7 444.2,149.4 445.3,147.7 446.4,146.6 447.4,145.5 448.5,143.9 449.6,141.7 450.7,139.6 451.8,138.0 452.9,137.0 454.0,134.8 455.1,133.2 456.2,132.4 457.3,131.5 458.4,130.0 459.4,127.9 460.5,125.7 461.6,124.3 462.7,123.6 463.8,122.9 464.9,121.5 466.0,119.5 467.1,118.7 468.2,117.4 469.3,115.6 470.4,113.8 471.5,112.6 472.6,111.9 473.6,111.3 474.7,110.1 475.8,108.5 476.9,106.9 478.0,105.9 479.1,105.5 480.2,104.0 481.3,103.1 482.4,102.9 483.5,102.8 484.6,102.1 485.7,100.8 486.7,99.5 487.8,98.9 488.9,99.0 490.0,99.1 491.1,98.6 492.2,97.5 493.3,97.6 494.4,97.3 495.5,96.5 496.6,95.7 497.7,95.6 498.8,95.9 499.8,96.4 500.9,96.2 502.0,95.6 503.1,94.9 504.2,94.8 505.3,95.2 506.4,95.3 507.5,95.1 508.6,94.7 509.7,94.3 510.8,94.1 511.9,94.2 512.9,94.3 514.0,94.2 515.1,93.9 516.2,93.5 517.3,93.5 518.4,93.7 519.5,93.2 520.7,93.3 521.9,94.0 523.1,94.5 524.3,94.4 525.5,93.8 526.7,93.7 527.8,94.2 528.9,94.9 529.9,95.3 530.7,95.2 531.5,94.9 532.1,95.5 532.7,94.4 533.1,94.8 533.5,95.8 533.8,95.9 534.1,95.4 534.3,94.9 534.4,94.7 534.6,94.7 534.7,94.8 534.9,95.1 535.0,95.5" fill="none" stroke="#ff4040" stroke-width="0.95" stroke-linejoin="round" clip-path="url(#cb)"/>
<circle cx="321.7" cy="70.0" r="1.6" fill="#ff4040"/>
<circle cx="335.0" cy="83.0" r="1.6" fill="#ff4040"/>
<circle cx="348.1" cy="98.0" r="1.6" fill="#ff4040"/>
<circle cx="361.2" cy="117.7" r="1.6" fill="#ff4040"/>
<circle cx="374.3" cy="140.9" r="1.6" fill="#ff4040"/>
<circle cx="387.4" cy="169.5" r="1.6" fill="#ff4040"/>
<circle cx="400.5" cy="193.5" r="1.6" fill="#ff4040"/>
<circle cx="413.6" cy="197.5" r="1.6" fill="#ff4040"/>
<circle cx="426.7" cy="180.7" r="1.6" fill="#ff4040"/>
<circle cx="439.8" cy="157.0" r="1.6" fill="#ff4040"/>
<circle cx="452.9" cy="137.0" r="1.6" fill="#ff4040"/>
<circle cx="466.0" cy="119.5" r="1.6" fill="#ff4040"/>
<circle cx="479.1" cy="105.5" r="1.6" fill="#ff4040"/>
<circle cx="492.2" cy="97.5" r="1.6" fill="#ff4040"/>
<circle cx="505.3" cy="95.2" r="1.6" fill="#ff4040"/>
<circle cx="518.4" cy="93.7" r="1.6" fill="#ff4040"/>
<circle cx="531.5" cy="94.9" r="1.6" fill="#ff4040"/>
<polyline points="321.7,61.0 322.3,61.6 323.1,62.4 324.1,63.5 325.2,64.9 326.3,66.4 327.5,67.8 328.8,68.9 330.1,70.2 331.4,71.9 332.6,73.6 333.9,74.9 335.0,76.0 336.1,76.6 337.2,77.8 338.3,79.6 339.4,81.3 340.5,82.5 341.6,83.0 342.7,83.6 343.7,84.8 344.8,86.6 345.9,88.4 347.0,89.7 348.1,90.4 349.2,91.2 350.3,92.5 351.4,94.4 352.5,96.4 353.6,97.8 354.7,98.7 355.7,99.6 356.8,101.1 357.9,103.1 359.0,105.3 360.1,106.9 361.2,108.0 362.3,109.0 363.4,110.8 364.5,113.3 365.6,115.8 366.7,117.7 367.8,118.9 368.8,120.2 369.9,122.2 371.0,124.9 372.1,127.6 373.2,129.6 374.3,131.0 375.4,132.5 376.5,134.7 377.6,137.4 378.7,140.2 379.8,142.4 380.9,144.1 381.9,145.8 383.0,148.1 384.1,150.9 385.2,153.7 386.3,155.9 387.4,157.5 388.5,159.4 389.6,161.7 390.7,164.3 391.8,167.0 392.9,169.3 393.9,171.4 395.0,173.3 396.1,175.5 397.2,177.8 398.3,180.0 399.4,181.7 400.5,183.0 401.6,183.9 402.7,185.2 403.8,186.9 404.9,188.6 406.0,189.6 407.1,189.9 408.1,190.1 409.2,190.7 410.3,191.7 411.4,192.4 412.5,192.5 413.6,191.8 414.7,191.7 415.8,191.1 416.9,189.9 418.0,188.5 419.1,187.2 420.2,186.1 421.2,185.0 422.3,183.4 423.4,181.5 424.5,179.7 425.6,178.1 426.7,177.0 427.8,175.1 428.9,173.6 430.0,172.6 431.1,171.5 432.2,169.9 433.2,167.8 434.3,165.7 435.4,164.1 436.5,162.9 437.6,161.7 438.7,160.1 439.8,158.0 440.9,155.7 442.0,154.0 443.1,153.0 444.2,152.0 445.3,150.3 446.4,147.9 447.4,145.5 448.5,143.8 449.6,142.8 450.7,141.9 451.8,140.3 452.9,138.0 454.0,136.7 455.1,135.2 456.2,133.5 457.3,131.8 458.4,130.3 459.4,129.2 460.5,128.1 461.6,126.7 462.7,125.0 463.8,123.4 464.9,122.1 466.0,121.0 467.1,119.3 468.2,118.0 469.3,117.0 470.4,116.0 471.5,114.7 472.6,113.1 473.6,111.4 474.7,110.2 475.8,109.4 476.9,108.6 478.0,107.4 479.1,106.0 480.2,105.3 481.3,104.3 482.4,103.0 483.5,101.7 484.6,100.8 485.7,100.3 486.7,99.8 487.8,99.0 488.9,97.9 490.0,96.9 491.1,96.2 492.2,96.0 493.3,95.0 494.4,94.6 495.5,94.7 496.6,94.9 497.7,94.7 498.8,94.0 499.8,93.3 500.9,93.1 502.0,93.4 503.1,93.7 504.2,93.5 505.3,92.7 506.4,92.1 507.5,91.8 508.6,91.7 509.7,91.7 510.8,91.3 511.9,90.7 512.9,90.1 514.0,89.7 515.1,89.8 516.2,89.8 517.3,89.6 518.4,89.1 519.5,88.6 520.7,88.5 521.9,88.9 523.1,89.3 524.3,89.1 525.5,88.6 526.7,88.4 527.8,88.8 528.9,89.3 529.9,89.5 530.7,89.4 531.5,89.1 532.1,88.5 532.7,89.8 533.1,89.5 533.5,88.6 533.8,88.6 534.1,89.1 534.3,89.7 534.4,90.1 534.6,90.2 534.7,90.1 534.9,89.8 535.0,89.5" fill="none" stroke="#1769f0" stroke-width="1.00" stroke-linejoin="round" clip-path="url(#cb)"/>
<path d="M321.7 58.9l2.0 3.3h-3.9z" fill="#1769f0"/>
<path d="M335.0 73.9l2.0 3.3h-3.9z" fill="#1769f0"/>
<path d="M348.1 88.3l2.0 3.3h-3.9z" fill="#1769f0"/>
<path d="M361.2 105.9l2.0 3.3h-3.9z" fill="#1769f0"/>
<path d="M374.3 128.9l2.0 3.3h-3.9z" fill="#1769f0"/>
<path d="M387.4 155.4l2.0 3.3h-3.9z" fill="#1769f0"/>
<path d="M400.5 180.9l2.0 3.3h-3.9z" fill="#1769f0"/>
<path d="M413.6 189.7l2.0 3.3h-3.9z" fill="#1769f0"/>
<path d="M426.7 174.9l2.0 3.3h-3.9z" fill="#1769f0"/>
<path d="M439.8 155.9l2.0 3.3h-3.9z" fill="#1769f0"/>
<path d="M452.9 135.9l2.0 3.3h-3.9z" fill="#1769f0"/>
<path d="M466.0 118.9l2.0 3.3h-3.9z" fill="#1769f0"/>
<path d="M479.1 103.9l2.0 3.3h-3.9z" fill="#1769f0"/>
<path d="M492.2 93.9l2.0 3.3h-3.9z" fill="#1769f0"/>
<path d="M505.3 90.6l2.0 3.3h-3.9z" fill="#1769f0"/>
<path d="M518.4 87.0l2.0 3.3h-3.9z" fill="#1769f0"/>
<path d="M531.5 87.0l2.0 3.3h-3.9z" fill="#1769f0"/>
<polyline points="321.7,63.0 322.3,64.1 323.1,65.2 324.1,66.1 325.2,66.7 326.3,67.5 327.5,69.0 328.8,71.1 330.1,72.9 331.4,73.9 332.6,74.7 333.9,76.1 335.0,78.0 336.1,78.8 337.2,80.2 338.3,82.1 339.4,84.1 340.5,85.6 341.6,86.4 342.7,87.3 343.7,88.8 344.8,90.8 345.9,92.8 347.0,94.2 348.1,95.0 349.2,96.6 350.3,97.9 351.4,99.0 352.5,100.1 353.6,101.4 354.7,102.9 355.7,104.4 356.8,105.7 357.9,106.8 359.0,107.9 360.1,109.3 361.2,111.0 362.3,112.1 363.4,113.5 364.5,115.4 365.6,117.3 366.7,118.8 367.8,120.0 368.8,121.2 369.9,122.8 371.0,124.8 372.1,126.9 373.2,128.6 374.3,129.9 375.4,132.2 376.5,134.0 377.6,135.4 378.7,136.8 379.8,138.7 380.9,141.2 381.9,143.6 383.0,145.6 384.1,147.1 385.2,148.6 386.3,150.6 387.4,153.0 388.5,155.3 389.6,157.4 390.7,159.1 391.8,160.9 392.9,163.0 393.9,165.5 395.0,167.9 396.1,169.9 397.2,171.4 398.3,172.9 399.4,174.5 400.5,176.3 401.6,178.2 402.7,179.5 403.8,180.2 404.9,180.9 406.0,181.9 407.1,183.4 408.1,184.8 409.2,185.5 410.3,185.5 411.4,185.4 412.5,185.6 413.6,186.2 414.7,186.5 415.8,186.1 416.9,185.1 418.0,183.9 419.1,183.0 420.2,182.5 421.2,181.8 422.3,180.6 423.4,178.9 424.5,177.2 425.6,175.9 426.7,175.0 427.8,173.3 428.9,171.9 430.0,170.6 431.1,169.3 432.2,167.6 433.2,165.6 434.3,163.5 435.4,161.7 436.5,160.3 437.6,158.8 438.7,157.0 439.8,155.0 440.9,152.8 442.0,151.1 443.1,149.7 444.2,148.4 445.3,146.6 446.4,144.3 447.4,142.1 448.5,140.3 449.6,139.1 450.7,137.8 451.8,136.2 452.9,134.2 454.0,132.3 455.1,130.9 456.2,129.9 457.3,129.0 458.4,127.7 459.4,126.0 460.5,124.4 461.6,123.1 462.7,122.3 463.8,121.5 464.9,120.2 466.0,118.5 467.1,117.4 468.2,116.0 469.3,114.5 470.4,112.9 471.5,111.5 472.6,110.3 473.6,109.2 474.7,107.9 475.8,106.4 476.9,104.9 478.0,103.8 479.1,102.9 480.2,101.3 481.3,100.3 482.4,100.0 483.5,99.7 484.6,98.8 485.7,97.5 486.7,96.1 487.8,95.4 488.9,95.2 490.0,95.1 491.1,94.4 492.2,93.2 493.3,92.3 494.4,91.6 495.5,91.3 496.6,91.0 497.7,90.4 498.8,89.6 499.8,88.9 500.9,88.4 502.0,88.2 503.1,88.0 504.2,87.6 505.3,87.0 506.4,86.3 507.5,86.0 508.6,86.1 509.7,86.2 510.8,85.9 511.9,85.4 512.9,84.9 514.0,84.8 515.1,85.0 516.2,85.2 517.3,85.1 518.4,84.7 519.5,84.0 520.7,84.1 521.9,84.8 523.1,85.5 524.3,85.2 525.5,84.5 526.7,84.3 527.8,84.9 528.9,85.7 529.9,86.1 530.7,85.9 531.5,85.5 532.1,85.8 532.7,85.3 533.1,85.5 533.5,86.0 533.8,86.0 534.1,85.9 534.3,85.7 534.4,85.6 534.6,85.6 534.7,85.7 534.9,85.8 535.0,86.0" fill="none" stroke="#1faa78" stroke-width="1.00" stroke-linejoin="round" clip-path="url(#cb)"/>
<path d="M320.0 61.8h3.4l-1.7 2.9z" fill="#1faa78"/>
<path d="M333.3 76.8h3.4l-1.7 2.9z" fill="#1faa78"/>
<path d="M346.4 93.8h3.4l-1.7 2.9z" fill="#1faa78"/>
<path d="M359.5 109.8h3.4l-1.7 2.9z" fill="#1faa78"/>
<path d="M372.6 128.7h3.4l-1.7 2.9z" fill="#1faa78"/>
<path d="M385.7 151.8h3.4l-1.7 2.9z" fill="#1faa78"/>
<path d="M398.8 175.1h3.4l-1.7 2.9z" fill="#1faa78"/>
<path d="M411.9 185.0h3.4l-1.7 2.9z" fill="#1faa78"/>
<path d="M425.0 173.8h3.4l-1.7 2.9z" fill="#1faa78"/>
<path d="M438.1 153.8h3.4l-1.7 2.9z" fill="#1faa78"/>
<path d="M451.2 133.0h3.4l-1.7 2.9z" fill="#1faa78"/>
<path d="M464.3 117.3h3.4l-1.7 2.9z" fill="#1faa78"/>
<path d="M477.4 101.7h3.4l-1.7 2.9z" fill="#1faa78"/>
<path d="M490.5 92.0h3.4l-1.7 2.9z" fill="#1faa78"/>
<path d="M503.6 85.8h3.4l-1.7 2.9z" fill="#1faa78"/>
<path d="M516.7 83.5h3.4l-1.7 2.9z" fill="#1faa78"/>
<path d="M529.8 84.3h3.4l-1.7 2.9z" fill="#1faa78"/>
<polyline points="321.7,58.4 322.3,59.3 323.1,60.2 324.1,61.0 325.2,61.7 326.3,62.5 327.5,63.8 328.8,65.4 330.1,66.9 331.4,67.9 332.6,68.8 333.9,70.0 335.0,71.6 336.1,73.1 337.2,74.3 338.3,75.2 339.4,76.1 340.5,77.4 341.6,79.0 342.7,80.6 343.7,81.9 344.8,82.9 345.9,83.9 347.0,85.3 348.1,87.0 349.2,88.0 350.3,89.4 351.4,91.2 352.5,93.0 353.6,94.5 354.7,95.6 355.7,96.7 356.8,98.3 357.9,100.2 359.0,102.1 360.1,103.7 361.2,105.0 362.3,106.2 363.4,107.9 364.5,110.1 365.6,112.3 366.7,114.1 367.8,115.5 368.8,116.9 369.9,118.7 371.0,121.0 372.1,123.3 373.2,125.1 374.3,126.5 375.4,128.0 376.5,129.8 377.6,132.0 378.7,134.2 379.8,136.1 380.9,137.6 381.9,139.2 383.0,141.0 384.1,143.2 385.2,145.4 386.3,147.2 387.4,148.7 388.5,149.9 389.6,151.7 390.7,154.3 391.8,156.9 392.9,158.8 393.9,160.0 395.0,161.1 396.1,162.9 397.2,165.3 398.3,167.5 399.4,169.0 400.5,169.7 401.6,170.3 402.7,171.5 403.8,173.3 404.9,175.1 406.0,176.1 407.1,176.4 408.1,176.6 409.2,177.3 410.3,178.5 411.4,179.7 412.5,180.0 413.6,179.6 414.7,179.4 415.8,179.3 416.9,179.3 418.0,179.2 419.1,178.8 420.2,177.9 421.2,177.0 422.3,176.2 423.4,175.7 424.5,175.1 425.6,174.2 426.7,173.0 427.8,172.3 428.9,171.2 430.0,169.8 431.1,168.2 432.2,166.9 433.2,165.8 434.3,164.7 435.4,163.3 436.5,161.5 437.6,159.7 438.7,158.2 439.8,157.0 440.9,155.7 442.0,154.1 443.1,152.2 444.2,150.3 445.3,148.6 446.4,147.1 447.4,145.6 448.5,143.8 449.6,141.9 450.7,140.0 451.8,138.3 452.9,137.0 454.0,135.2 455.1,133.7 456.2,132.5 457.3,131.3 458.4,129.9 459.4,128.2 460.5,126.5 461.6,125.1 462.7,124.0 463.8,123.0 464.9,121.6 466.0,120.0 467.1,118.0 468.2,116.7 469.3,116.0 470.4,115.4 471.5,114.1 472.6,112.1 473.6,110.2 474.7,109.0 475.8,108.4 476.9,107.9 478.0,106.8 479.1,105.0 480.2,104.3 481.3,103.2 482.4,101.8 483.5,100.4 484.6,99.5 485.7,98.9 486.7,98.3 487.8,97.4 488.9,96.2 490.0,95.1 491.1,94.3 492.2,94.0 493.3,94.0 494.4,93.4 495.5,92.3 496.6,91.3 497.7,90.9 498.8,91.1 499.8,91.3 500.9,91.0 502.0,90.1 503.1,89.2 504.2,88.9 505.3,89.1 506.4,88.5 507.5,88.1 508.6,88.0 509.7,88.0 510.8,87.6 511.9,87.0 512.9,86.5 514.0,86.2 515.1,86.2 516.2,86.2 517.3,86.0 518.4,85.5 519.5,85.6 520.7,85.4 521.9,85.0 523.1,84.7 524.3,84.8 525.5,85.0 526.7,85.1 527.8,84.9 528.9,84.6 529.9,84.5 530.7,84.6 531.5,84.7 532.1,85.0 532.7,84.3 533.1,84.5 533.5,85.0 533.8,85.0 534.1,84.7 534.3,84.4 534.4,84.3 534.6,84.3 534.7,84.3 534.9,84.5 535.0,84.7" fill="none" stroke="#c77af5" stroke-width="0.95" stroke-linejoin="round" clip-path="url(#cb)"/>
<circle cx="321.7" cy="58.4" r="1.7" fill="#c77af5"/>
<circle cx="335.0" cy="71.6" r="1.7" fill="#c77af5"/>
<circle cx="348.1" cy="87.0" r="1.7" fill="#c77af5"/>
<circle cx="361.2" cy="105.0" r="1.7" fill="#c77af5"/>
<circle cx="374.3" cy="126.5" r="1.7" fill="#c77af5"/>
<circle cx="387.4" cy="148.7" r="1.7" fill="#c77af5"/>
<circle cx="400.5" cy="169.7" r="1.7" fill="#c77af5"/>
<circle cx="413.6" cy="179.6" r="1.7" fill="#c77af5"/>
<circle cx="426.7" cy="173.0" r="1.7" fill="#c77af5"/>
<circle cx="439.8" cy="157.0" r="1.7" fill="#c77af5"/>
<circle cx="452.9" cy="137.0" r="1.7" fill="#c77af5"/>
<circle cx="466.0" cy="120.0" r="1.7" fill="#c77af5"/>
<circle cx="479.1" cy="105.0" r="1.7" fill="#c77af5"/>
<circle cx="492.2" cy="94.0" r="1.7" fill="#c77af5"/>
<circle cx="505.3" cy="89.1" r="1.7" fill="#c77af5"/>
<circle cx="518.4" cy="85.5" r="1.7" fill="#c77af5"/>
<circle cx="531.5" cy="84.7" r="1.7" fill="#c77af5"/>
<polyline points="321.7,50.4 322.3,50.6 323.1,51.0 324.1,52.1 325.2,53.8 326.3,55.6 327.5,56.6 328.8,56.9 330.1,57.7 331.4,59.6 332.6,61.7 333.9,63.1 335.0,63.6 336.1,65.5 337.2,66.7 338.3,67.4 339.4,68.0 340.5,69.4 341.6,71.4 342.7,73.4 343.7,74.7 344.8,75.5 345.9,76.2 347.0,77.6 348.1,79.6 349.2,81.6 350.3,83.0 351.4,83.8 352.5,84.6 353.6,86.0 354.7,88.1 355.7,90.1 356.8,91.6 357.9,92.4 359.0,93.2 360.1,94.6 361.2,96.6 362.3,97.6 363.4,98.9 364.5,100.7 365.6,102.5 366.7,103.8 367.8,104.7 368.8,105.7 369.9,107.0 371.0,108.8 372.1,110.6 373.2,112.0 374.3,113.0 375.4,114.7 376.5,116.2 377.6,117.3 378.7,118.5 379.8,120.0 380.9,121.8 381.9,123.6 383.0,125.1 384.1,126.3 385.2,127.6 386.3,129.1 387.4,131.0 388.5,133.2 389.6,134.9 390.7,136.0 391.8,137.1 392.9,138.8 393.9,141.2 395.0,143.5 396.1,145.2 397.2,146.3 398.3,147.3 399.4,148.9 400.5,151.0 401.6,152.0 402.7,153.5 403.8,155.4 404.9,157.2 406.0,158.6 407.1,159.6 408.1,160.4 409.2,161.7 410.3,163.2 411.4,164.7 412.5,165.6 413.6,166.0 414.7,166.9 415.8,167.6 416.9,167.9 418.0,168.2 419.1,168.6 420.2,169.1 421.2,169.6 422.3,169.7 423.4,169.5 424.5,169.2 425.6,169.1 426.7,169.0 427.8,168.2 428.9,167.6 430.0,167.4 431.1,167.1 432.2,166.2 433.2,164.8 434.3,163.4 435.4,162.3 436.5,161.6 437.6,160.8 438.7,159.6 439.8,158.0 440.9,156.5 442.0,155.1 443.1,153.9 444.2,152.7 445.3,151.1 446.4,149.3 447.4,147.4 448.5,145.8 449.6,144.4 450.7,143.0 451.8,141.5 452.9,139.7 454.0,138.7 455.1,137.2 456.2,135.2 457.3,133.3 458.4,131.9 459.4,130.8 460.5,129.8 461.6,128.4 462.7,126.5 463.8,124.6 464.9,123.2 466.0,122.2 467.1,121.2 468.2,119.8 469.3,117.9 470.4,116.0 471.5,114.6 472.6,113.6 473.6,112.7 474.7,111.3 475.8,109.5 476.9,107.8 478.0,106.5 479.1,105.7 480.2,104.1 481.3,102.9 482.4,102.1 483.5,101.4 484.6,100.3 485.7,98.8 486.7,97.3 487.8,96.3 488.9,95.7 490.0,95.2 491.1,94.3 492.2,93.0 493.3,92.9 494.4,92.1 495.5,90.8 496.6,89.5 497.7,89.0 498.8,89.0 499.8,89.2 500.9,88.6 502.0,87.5 503.1,86.3 504.2,85.8 505.3,85.9 506.4,86.0 507.5,85.4 508.6,84.2 509.7,82.9 510.8,82.4 511.9,82.5 512.9,82.6 514.0,82.0 515.1,80.9 516.2,79.7 517.3,79.3 518.4,79.6 519.5,79.8 520.7,79.4 521.9,78.5 523.1,77.8 524.3,77.9 525.5,78.4 526.7,78.5 527.8,77.9 528.9,77.2 529.9,76.8 530.7,76.9 531.5,77.2 532.1,76.7 532.7,77.5 533.1,77.2 533.5,76.5 533.8,76.5 534.1,76.8 534.3,77.2 534.4,77.5 534.6,77.5 534.7,77.4 534.9,77.3 535.0,77.0" fill="none" stroke="#f0a42a" stroke-width="1.00" stroke-linejoin="round" clip-path="url(#cb)"/>
<path d="M321.7 48.8l1.6 1.6l-1.6 1.6l-1.6 -1.6z" fill="#f0a42a"/>
<path d="M335.0 62.0l1.6 1.6l-1.6 1.6l-1.6 -1.6z" fill="#f0a42a"/>
<path d="M348.1 78.0l1.6 1.6l-1.6 1.6l-1.6 -1.6z" fill="#f0a42a"/>
<path d="M361.2 95.0l1.6 1.6l-1.6 1.6l-1.6 -1.6z" fill="#f0a42a"/>
<path d="M374.3 111.4l1.6 1.6l-1.6 1.6l-1.6 -1.6z" fill="#f0a42a"/>
<path d="M387.4 129.4l1.6 1.6l-1.6 1.6l-1.6 -1.6z" fill="#f0a42a"/>
<path d="M400.5 149.4l1.6 1.6l-1.6 1.6l-1.6 -1.6z" fill="#f0a42a"/>
<path d="M413.6 164.4l1.6 1.6l-1.6 1.6l-1.6 -1.6z" fill="#f0a42a"/>
<path d="M426.7 167.4l1.6 1.6l-1.6 1.6l-1.6 -1.6z" fill="#f0a42a"/>
<path d="M439.8 156.4l1.6 1.6l-1.6 1.6l-1.6 -1.6z" fill="#f0a42a"/>
<path d="M452.9 138.1l1.6 1.6l-1.6 1.6l-1.6 -1.6z" fill="#f0a42a"/>
<path d="M466.0 120.6l1.6 1.6l-1.6 1.6l-1.6 -1.6z" fill="#f0a42a"/>
<path d="M479.1 104.1l1.6 1.6l-1.6 1.6l-1.6 -1.6z" fill="#f0a42a"/>
<path d="M492.2 91.4l1.6 1.6l-1.6 1.6l-1.6 -1.6z" fill="#f0a42a"/>
<path d="M505.3 84.3l1.6 1.6l-1.6 1.6l-1.6 -1.6z" fill="#f0a42a"/>
<path d="M518.4 78.0l1.6 1.6l-1.6 1.6l-1.6 -1.6z" fill="#f0a42a"/>
<path d="M531.5 75.6l1.6 1.6l-1.6 1.6l-1.6 -1.6z" fill="#f0a42a"/>
<polyline points="321.7,45.0 322.3,45.7 323.1,46.4 324.1,47.1 325.2,47.5 326.3,48.1 327.5,49.1 328.8,50.4 330.1,51.6 331.4,52.4 332.6,53.0 333.9,54.0 335.0,55.4 336.1,56.7 337.2,57.7 338.3,58.6 339.4,59.5 340.5,60.7 341.6,62.1 342.7,63.5 343.7,64.7 344.8,65.7 345.9,66.8 347.0,68.1 348.1,69.6 349.2,70.4 350.3,71.8 351.4,73.7 352.5,75.7 353.6,77.2 354.7,78.1 355.7,79.1 356.8,80.6 357.9,82.6 359.0,84.6 360.1,86.1 361.2,87.0 362.3,89.1 363.4,90.5 364.5,91.3 365.6,92.2 366.7,93.6 367.8,95.7 368.8,97.8 369.9,99.2 371.0,100.0 372.1,100.7 373.2,102.0 374.3,104.0 375.4,105.7 376.5,106.9 377.6,107.7 378.7,108.5 379.8,109.6 380.9,111.2 381.9,112.7 383.0,113.8 384.1,114.5 385.2,115.3 386.3,116.4 387.4,118.0 388.5,119.8 389.6,120.9 390.7,121.5 391.8,122.1 392.9,123.3 393.9,125.1 395.0,126.9 396.1,128.1 397.2,128.7 398.3,129.4 399.4,130.6 400.5,132.5 401.6,133.1 402.7,134.5 403.8,136.5 404.9,138.6 406.0,140.0 407.1,140.7 408.1,141.4 409.2,142.8 410.3,144.9 411.4,147.0 412.5,148.3 413.6,149.0 414.7,149.7 415.8,151.2 416.9,153.4 418.0,155.6 419.1,157.2 420.2,158.0 421.2,158.8 422.3,160.1 423.4,162.0 424.5,163.7 425.6,164.6 426.7,164.5 427.8,164.7 428.9,164.9 430.0,165.3 431.1,165.5 432.2,165.3 433.2,164.7 434.3,164.1 435.4,163.5 436.5,163.2 437.6,162.8 438.7,162.1 439.8,161.0 440.9,160.7 442.0,159.7 443.1,158.0 444.2,156.1 445.3,154.8 446.4,154.0 447.4,153.2 448.5,151.7 449.6,149.5 450.7,147.4 451.8,145.8 452.9,144.9 454.0,143.1 455.1,141.5 456.2,140.0 457.3,138.5 458.4,136.7 459.4,134.7 460.5,132.7 461.6,130.9 462.7,129.4 463.8,128.0 464.9,126.4 466.0,124.6 467.1,122.6 468.2,121.2 469.3,120.4 470.4,119.7 471.5,118.4 472.6,116.6 473.6,114.8 474.7,113.6 475.8,113.0 476.9,112.4 478.0,111.1 479.1,109.3 480.2,107.7 481.3,106.4 482.4,105.4 483.5,104.4 484.6,103.0 485.7,101.4 486.7,99.8 487.8,98.5 488.9,97.6 490.0,96.7 491.1,95.6 492.2,94.2 493.3,92.7 494.4,91.7 495.5,91.4 496.6,91.1 497.7,90.2 498.8,88.9 499.8,87.7 500.9,86.9 502.0,86.8 503.1,86.6 504.2,85.9 505.3,84.7 506.4,83.4 507.5,82.7 508.6,82.7 509.7,82.7 510.8,82.1 511.9,80.8 512.9,79.6 514.0,79.1 515.1,79.2 516.2,79.3 517.3,78.8 518.4,77.7 519.5,76.7 520.7,76.3 521.9,76.6 523.1,76.7 524.3,76.0 525.5,75.0 526.7,74.4 527.8,74.5 528.9,74.9 529.9,74.8 530.7,74.4 531.5,73.8 532.1,74.1 532.7,72.9 533.1,73.1 533.5,73.8 533.8,73.8 534.1,73.3 534.3,72.8 534.4,72.5 534.6,72.4 534.7,72.5 534.9,72.7 535.0,73.0" fill="none" stroke="#12d9dc" stroke-width="1.30" stroke-linejoin="round" clip-path="url(#cb)"/>
<circle cx="321.7" cy="45.0" r="1.7" fill="#12d9dc"/>
<circle cx="335.0" cy="55.4" r="1.7" fill="#12d9dc"/>
<circle cx="348.1" cy="69.6" r="1.7" fill="#12d9dc"/>
<circle cx="361.2" cy="87.0" r="1.7" fill="#12d9dc"/>
<circle cx="374.3" cy="104.0" r="1.7" fill="#12d9dc"/>
<circle cx="387.4" cy="118.0" r="1.7" fill="#12d9dc"/>
<circle cx="400.5" cy="132.5" r="1.7" fill="#12d9dc"/>
<circle cx="413.6" cy="149.0" r="1.7" fill="#12d9dc"/>
<circle cx="426.7" cy="164.5" r="1.7" fill="#12d9dc"/>
<circle cx="439.8" cy="161.0" r="1.7" fill="#12d9dc"/>
<circle cx="452.9" cy="144.9" r="1.7" fill="#12d9dc"/>
<circle cx="466.0" cy="124.6" r="1.7" fill="#12d9dc"/>
<circle cx="479.1" cy="109.3" r="1.7" fill="#12d9dc"/>
<circle cx="492.2" cy="94.2" r="1.7" fill="#12d9dc"/>
<circle cx="505.3" cy="84.7" r="1.7" fill="#12d9dc"/>
<circle cx="518.4" cy="77.7" r="1.7" fill="#12d9dc"/>
<circle cx="531.5" cy="73.8" r="1.7" fill="#12d9dc"/>
<rect x="321.9" y="36.0" width="213.1" height="172.0" fill="none" stroke="#5e5e5e" stroke-width="1.40"/>
<line x1="321.9" y1="59.0" x2="325.1" y2="59.0" stroke="#484848" stroke-width="1.20"/>
<line x1="321.9" y1="82.0" x2="325.1" y2="82.0" stroke="#484848" stroke-width="1.20"/>
<line x1="321.9" y1="105.0" x2="325.1" y2="105.0" stroke="#484848" stroke-width="1.20"/>
<line x1="321.9" y1="128.0" x2="325.1" y2="128.0" stroke="#484848" stroke-width="1.20"/>
<line x1="321.9" y1="151.0" x2="325.1" y2="151.0" stroke="#484848" stroke-width="1.20"/>
<line x1="321.9" y1="174.0" x2="325.1" y2="174.0" stroke="#484848" stroke-width="1.20"/>
<line x1="321.9" y1="197.0" x2="325.1" y2="197.0" stroke="#484848" stroke-width="1.20"/>
<line x1="375.7" y1="208.0" x2="375.7" y2="204.8" stroke="#484848" stroke-width="1.20"/>
<line x1="427.9" y1="208.0" x2="427.9" y2="204.8" stroke="#484848" stroke-width="1.20"/>
<line x1="481.3" y1="208.0" x2="481.3" y2="204.8" stroke="#484848" stroke-width="1.20"/>
<text x="318.4" y="40.6" font-size="12.00" text-anchor="end" fill="#222"  stroke="#222" stroke-width="0.25">−8</text>
<text x="319.8" y="85.6" font-size="12.00" text-anchor="end" fill="#222"  stroke="#222" stroke-width="0.25">−10</text>
<text x="319.8" y="132.8" font-size="12.00" text-anchor="end" fill="#222"  stroke="#222" stroke-width="0.25">−12</text>
<text x="319.8" y="179.5" font-size="12.00" text-anchor="end" fill="#222"  stroke="#222" stroke-width="0.25">−14</text>
<text x="322.0" y="209.5" font-size="12.00" text-anchor="end" fill="#222"  stroke="#222" stroke-width="0.25">−16</text>
<text x="323.7" y="224.3" font-size="12.00" text-anchor="middle" fill="#222"  stroke="#222" stroke-width="0.25">1570</text>
<text x="373.7" y="224.3" font-size="12.00" text-anchor="middle" fill="#222"  stroke="#222" stroke-width="0.25">1575</text>
<text x="429.3" y="224.3" font-size="12.00" text-anchor="middle" fill="#222"  stroke="#222" stroke-width="0.25">1580</text>
<text x="482.0" y="224.3" font-size="12.00" text-anchor="middle" fill="#222"  stroke="#222" stroke-width="0.25">1585</text>
<text x="530.5" y="224.3" font-size="12.00" text-anchor="middle" fill="#222"  stroke="#222" stroke-width="0.25">1590</text>
<text x="431.0" y="237.2" font-size="13.80" text-anchor="middle" fill="#222"  stroke="#222" stroke-width="0.25">Wavelength (nm)</text>
<text x="0" y="0" font-size="14.00" text-anchor="middle" fill="#222" transform="translate(296.6 122.6) rotate(-90)" stroke="#222" stroke-width="0.25">Transmission (dB)</text>
<line x1="483.3" y1="132.9" x2="503.1" y2="132.9" stroke="#505050" stroke-width="1.00"/>
<path d="M493.0 131.5l1.3 2.2h-2.6z" fill="#333"/>
<text x="505.4" y="136.1" font-size="9.0" fill="#333" stroke="#333" stroke-width="0.25">1.3325</text>
<line x1="483.3" y1="143.9" x2="503.1" y2="143.9" stroke="#ff4040" stroke-width="1.15"/>
<circle cx="493.0" cy="143.9" r="1.6" fill="#ff4040"/>
<text x="505.4" y="147.1" font-size="9.0" fill="#333" stroke="#333" stroke-width="0.25">1.3444</text>
<line x1="483.3" y1="155.0" x2="503.1" y2="155.0" stroke="#1769f0" stroke-width="1.20"/>
<path d="M493.0 152.9l2.0 3.3h-3.9z" fill="#1769f0"/>
<text x="505.4" y="158.2" font-size="9.0" fill="#333" stroke="#333" stroke-width="0.25">1.3571</text>
<line x1="483.3" y1="166.0" x2="503.1" y2="166.0" stroke="#1faa78" stroke-width="1.20"/>
<path d="M491.3 164.8h3.4l-1.7 2.9z" fill="#1faa78"/>
<text x="505.4" y="169.2" font-size="9.0" fill="#333" stroke="#333" stroke-width="0.25">1.3657</text>
<line x1="483.3" y1="177.1" x2="503.1" y2="177.1" stroke="#c77af5" stroke-width="1.15"/>
<circle cx="493.0" cy="177.1" r="1.7" fill="#c77af5"/>
<text x="505.4" y="180.3" font-size="9.0" fill="#333" stroke="#333" stroke-width="0.25">1.3740</text>
<line x1="483.3" y1="188.1" x2="503.1" y2="188.1" stroke="#f0a42a" stroke-width="1.20"/>
<path d="M493.0 186.5l1.6 1.6l-1.6 1.6l-1.6 -1.6z" fill="#f0a42a"/>
<text x="505.4" y="191.3" font-size="9.0" fill="#333" stroke="#333" stroke-width="0.25">1.3847</text>
<line x1="483.3" y1="199.3" x2="503.1" y2="199.3" stroke="#12d9dc" stroke-width="1.50"/>
<circle cx="493.0" cy="199.3" r="1.7" fill="#12d9dc"/>
<text x="505.4" y="202.5" font-size="9.0" fill="#333" stroke="#333" stroke-width="0.25">1.3945</text>
<text x="5.5" y="255.2" font-size="16.00" text-anchor="start" fill="#111" font-weight="bold" stroke="#111" stroke-width="0.25">(c)</text>
<text x="162.7" y="268.6" font-size="13.4" font-weight="bold" text-anchor="middle" fill="#111" stroke="#111" stroke-width="0.25"><tspan font-style="italic">D</tspan><tspan font-style="italic" font-size="9.6" dy="3">p</tspan><tspan dy="-3"> = 79 µm</tspan></text>
<polyline points="59.6,329.3 60.1,329.9 60.7,330.5 61.5,331.0 62.3,331.2 63.3,331.6 64.2,332.4 65.2,333.6 66.2,334.6 67.3,335.1 68.3,335.5 69.2,336.3 70.1,337.5 71.0,338.8 71.8,339.7 72.6,340.0 73.5,340.4 74.3,341.3 75.1,342.7 76.0,344.2 76.8,345.2 77.6,345.7 78.4,346.2 79.3,347.3 80.1,349.0 80.9,350.4 81.8,351.6 82.6,352.7 83.4,353.8 84.2,355.1 85.0,356.7 85.9,358.3 86.7,359.7 87.5,361.0 88.3,362.3 89.2,363.9 90.0,365.7 90.8,367.1 91.7,368.8 92.5,370.7 93.3,372.7 94.2,374.5 95.0,376.1 95.8,377.8 96.7,379.7 97.5,381.9 98.3,384.1 99.2,386.1 100.0,388.0 100.8,390.4 101.7,392.7 102.5,394.7 103.3,396.9 104.2,399.3 105.0,402.0 105.8,404.7 106.7,407.1 107.5,409.3 108.3,411.4 109.2,413.6 110.0,416.0 110.8,418.3 111.7,420.5 112.5,422.3 113.3,424.2 114.2,426.2 115.0,428.5 115.8,430.6 116.7,432.4 117.5,433.9 118.3,435.2 119.2,436.6 120.0,438.0 120.8,439.4 121.7,440.3 122.5,440.8 123.3,441.0 124.2,441.6 125.0,442.4 125.8,443.1 126.7,443.3 127.5,443.0 128.3,442.6 129.2,442.4 130.0,442.5 130.8,441.9 131.7,441.3 132.5,440.7 133.4,440.0 134.2,439.0 135.1,437.7 135.9,436.3 136.8,435.0 137.6,433.9 138.5,432.8 139.3,431.5 140.2,430.0 141.1,428.5 141.9,427.0 142.8,425.8 143.7,424.4 144.6,422.8 145.4,421.0 146.3,419.2 147.2,417.6 148.0,416.2 148.9,414.8 149.8,413.2 150.6,411.5 151.4,409.8 152.3,408.3 153.1,407.1 153.9,405.8 154.7,404.4 155.5,402.7 156.3,401.1 157.1,399.7 157.9,398.5 158.7,397.3 159.5,396.0 160.3,394.4 161.1,392.8 161.9,391.5 162.8,390.4 163.6,389.4 164.4,388.2 165.3,386.6 166.1,385.1 166.9,383.8 167.8,382.9 168.6,381.9 169.5,380.6 170.3,379.1 171.1,377.4 172.0,376.1 172.8,375.3 173.7,374.5 174.5,373.2 175.4,371.4 176.2,369.7 177.1,368.4 177.9,367.7 178.7,366.9 179.6,365.7 180.4,364.0 181.2,362.6 182.0,361.4 182.9,360.6 183.7,359.7 184.5,358.6 185.3,357.3 186.1,356.0 186.9,354.9 187.8,354.1 188.6,353.2 189.4,352.1 190.2,350.7 191.0,349.9 191.8,348.7 192.7,347.1 193.5,345.6 194.3,344.3 195.2,343.5 196.0,342.6 196.8,341.4 197.6,339.8 198.5,338.3 199.3,337.2 200.1,336.4 200.9,334.9 201.7,333.8 202.6,333.2 203.4,332.5 204.2,331.4 205.0,330.0 205.8,328.6 206.6,327.7 207.5,327.1 208.3,326.6 209.1,325.8 209.9,324.6 210.7,324.2 211.5,323.5 212.4,322.4 213.2,321.3 214.0,320.7 214.8,320.5 215.6,320.3 216.4,319.8 217.3,319.0 218.1,318.2 218.9,317.9 219.7,318.0 220.5,318.3 221.3,318.1 222.1,317.6 222.9,317.1 223.7,317.1 224.5,317.6 225.3,318.2 226.2,318.4 227.0,318.2 227.8,318.0 228.6,318.3 229.4,319.2 230.2,319.8 231.0,320.3 231.8,320.8 232.7,321.3 233.5,321.9 234.3,322.8 235.1,323.8 236.0,324.7 236.8,325.4 237.6,326.2 238.5,327.1 239.3,328.3 240.2,329.7 241.0,330.9 241.9,331.7 242.8,332.6 243.6,333.8 244.5,335.5 245.4,337.2 246.3,338.6 247.1,339.6 248.0,340.6 248.9,342.1 249.7,343.8 250.5,345.4 251.4,346.9 252.2,348.2 253.0,349.6 253.8,351.2 254.6,353.0 255.4,354.7 256.3,356.2 257.1,357.5 257.9,358.8 258.7,360.1 259.5,361.5 260.3,362.4 261.2,363.5 262.1,364.9 262.9,366.2 263.8,367.1 264.7,367.6 265.6,368.3 266.4,369.2 267.2,370.3 268.0,371.2 268.7,371.6 269.3,371.9 269.9,371.8 270.5,372.5 271.0,373.3 271.5,373.2 271.9,372.6 272.4,372.3 272.8,372.5 273.1,372.9 273.4,373.1 273.7,373.1 274.0,372.8 274.2,372.5" fill="none" stroke="#505050" stroke-width="0.80" stroke-linejoin="round" clip-path="url(#cc)"/>
<path d="M59.6 327.9l1.3 2.2h-2.6z" fill="#333"/>
<path d="M70.1 336.1l1.3 2.2h-2.6z" fill="#333"/>
<path d="M80.1 347.6l1.3 2.2h-2.6z" fill="#333"/>
<path d="M90.0 364.3l1.3 2.2h-2.6z" fill="#333"/>
<path d="M100.0 386.6l1.3 2.2h-2.6z" fill="#333"/>
<path d="M110.0 414.6l1.3 2.2h-2.6z" fill="#333"/>
<path d="M120.0 436.6l1.3 2.2h-2.6z" fill="#333"/>
<path d="M130.0 441.1l1.3 2.2h-2.6z" fill="#333"/>
<path d="M140.2 428.6l1.3 2.2h-2.6z" fill="#333"/>
<path d="M150.6 410.1l1.3 2.2h-2.6z" fill="#333"/>
<path d="M160.3 393.0l1.3 2.2h-2.6z" fill="#333"/>
<path d="M170.3 377.7l1.3 2.2h-2.6z" fill="#333"/>
<path d="M180.4 362.6l1.3 2.2h-2.6z" fill="#333"/>
<path d="M190.2 349.3l1.3 2.2h-2.6z" fill="#333"/>
<path d="M200.1 335.0l1.3 2.2h-2.6z" fill="#333"/>
<path d="M209.9 323.2l1.3 2.2h-2.6z" fill="#333"/>
<path d="M219.7 316.6l1.3 2.2h-2.6z" fill="#333"/>
<path d="M229.4 317.8l1.3 2.2h-2.6z" fill="#333"/>
<path d="M239.3 326.9l1.3 2.2h-2.6z" fill="#333"/>
<path d="M249.7 342.4l1.3 2.2h-2.6z" fill="#333"/>
<path d="M259.5 360.1l1.3 2.2h-2.6z" fill="#333"/>
<path d="M269.3 370.5l1.3 2.2h-2.6z" fill="#333"/>
<path d="M274.2 371.1l1.3 2.2h-2.6z" fill="#333"/>
<polyline points="59.6,319.5 60.1,319.3 60.7,319.0 61.5,318.9 62.3,319.0 63.3,319.0 64.2,318.7 65.2,318.3 66.2,318.0 67.3,318.0 68.3,318.2 69.2,318.1 70.1,317.9 71.0,317.8 71.8,317.9 72.6,318.1 73.5,318.3 74.3,318.4 75.1,318.4 76.0,318.5 76.8,318.7 77.6,319.1 78.4,319.4 79.3,319.8 80.1,320.0 80.9,320.3 81.8,320.7 82.6,321.3 83.4,321.9 84.2,322.4 85.0,322.8 85.9,323.3 86.7,323.9 87.5,324.7 88.3,325.5 89.2,326.2 90.0,326.9 90.8,327.5 91.7,328.4 92.5,329.5 93.3,330.6 94.2,331.6 95.0,332.4 95.8,333.2 96.7,334.3 97.5,335.6 98.3,337.0 99.2,338.2 100.0,339.2 100.8,340.7 101.7,342.0 102.5,343.2 103.3,344.3 104.2,345.8 105.0,347.5 105.8,349.2 106.7,350.8 107.5,352.2 108.3,353.6 109.2,355.3 110.0,357.2 110.8,358.8 111.7,360.6 112.5,362.7 113.3,364.8 114.2,366.8 115.0,368.6 115.8,370.4 116.7,372.4 117.5,374.6 118.3,376.9 119.2,378.9 120.0,380.7 120.8,382.6 121.7,384.6 122.5,386.8 123.3,389.1 124.2,391.2 125.0,393.1 125.8,395.1 126.7,397.1 127.5,399.3 128.3,401.4 129.2,403.3 130.0,404.9 130.8,406.6 131.7,408.3 132.5,410.2 133.4,411.9 134.2,413.6 135.1,415.1 135.9,416.6 136.8,418.1 137.6,419.5 138.5,420.9 139.3,422.0 140.2,423.0 141.1,424.2 141.9,425.0 142.8,425.5 143.7,425.9 144.6,426.5 145.4,427.2 146.3,427.8 147.2,428.1 148.0,428.1 148.9,428.0 149.8,428.0 150.6,428.2 151.4,428.2 152.3,427.9 153.1,427.3 153.9,426.6 154.7,426.0 155.5,425.5 156.3,424.9 157.1,424.1 157.9,423.1 158.7,422.1 159.5,421.3 160.3,420.7 161.1,419.7 161.9,418.9 162.8,418.4 163.6,417.9 164.4,417.1 165.3,416.0 166.1,414.8 166.9,413.9 167.8,413.2 168.6,412.3 169.5,411.2 170.3,409.7 171.1,408.5 172.0,407.0 172.8,405.2 173.7,403.3 174.5,401.5 175.4,399.9 176.2,398.3 177.1,396.4 177.9,394.5 178.7,392.6 179.6,391.0 180.4,389.8 181.2,388.3 182.0,387.0 182.9,386.1 183.7,385.3 184.5,384.2 185.3,383.0 186.1,381.8 186.9,380.8 187.8,380.0 188.6,379.3 189.4,378.2 190.2,376.9 191.0,376.0 191.8,374.8 192.7,373.4 193.5,372.1 194.3,370.9 195.2,369.9 196.0,368.9 196.8,367.7 197.6,366.3 198.5,365.0 199.3,363.9 200.1,363.0 200.9,362.0 201.7,361.0 202.6,359.9 203.4,358.9 204.2,357.9 205.0,357.0 205.8,356.2 206.6,355.3 207.5,354.2 208.3,353.2 209.1,352.3 209.9,351.4 210.7,350.2 211.5,349.3 212.4,348.6 213.2,347.8 214.0,346.9 214.8,345.8 215.6,344.6 216.4,343.7 217.3,343.0 218.1,342.2 218.9,341.2 219.7,340.0 220.5,339.2 221.3,338.1 222.1,336.8 222.9,335.4 223.7,334.3 224.5,333.4 225.3,332.5 226.2,331.4 227.0,330.1 227.8,328.8 228.6,327.8 229.4,327.1 230.2,326.0 231.0,325.1 231.8,324.3 232.7,323.6 233.5,322.7 234.3,321.8 235.1,320.8 236.0,320.1 236.8,319.5 237.6,319.0 238.5,318.4 239.3,317.7 240.2,317.1 241.0,316.6 241.9,316.2 242.8,316.0 243.6,315.6 244.5,315.1 245.4,314.7 246.3,314.5 247.1,314.6 248.0,314.7 248.9,314.8 249.7,314.8 250.5,314.9 251.4,315.3 252.2,316.1 253.0,316.9 253.8,317.6 254.6,318.2 255.4,318.9 256.3,319.7 257.1,320.8 257.9,321.9 258.7,322.8 259.5,323.4 260.3,324.5 261.2,325.3 262.1,325.9 262.9,326.6 263.8,327.6 264.7,328.8 265.6,329.9 266.4,330.8 267.2,331.5 268.0,332.3 268.7,333.3 269.3,334.4 269.9,335.6 270.5,336.4 271.0,337.2 271.5,338.3 271.9,339.7 272.4,340.9 272.8,341.8 273.1,342.5 273.4,343.3 273.7,344.0 274.0,344.8 274.2,345.5" fill="none" stroke="#ff4040" stroke-width="0.95" stroke-linejoin="round" clip-path="url(#cc)"/>
<circle cx="59.6" cy="319.5" r="1.6" fill="#ff4040"/>
<circle cx="70.1" cy="317.9" r="1.6" fill="#ff4040"/>
<circle cx="80.1" cy="320.0" r="1.6" fill="#ff4040"/>
<circle cx="90.0" cy="326.9" r="1.6" fill="#ff4040"/>
<circle cx="100.0" cy="339.2" r="1.6" fill="#ff4040"/>
<circle cx="110.0" cy="357.2" r="1.6" fill="#ff4040"/>
<circle cx="120.0" cy="380.7" r="1.6" fill="#ff4040"/>
<circle cx="130.0" cy="404.9" r="1.6" fill="#ff4040"/>
<circle cx="140.2" cy="423.0" r="1.6" fill="#ff4040"/>
<circle cx="150.6" cy="428.2" r="1.6" fill="#ff4040"/>
<circle cx="160.3" cy="420.7" r="1.6" fill="#ff4040"/>
<circle cx="170.3" cy="409.7" r="1.6" fill="#ff4040"/>
<circle cx="180.4" cy="389.8" r="1.6" fill="#ff4040"/>
<circle cx="190.2" cy="376.9" r="1.6" fill="#ff4040"/>
<circle cx="200.1" cy="363.0" r="1.6" fill="#ff4040"/>
<circle cx="209.9" cy="351.4" r="1.6" fill="#ff4040"/>
<circle cx="219.7" cy="340.0" r="1.6" fill="#ff4040"/>
<circle cx="229.4" cy="327.1" r="1.6" fill="#ff4040"/>
<circle cx="239.3" cy="317.7" r="1.6" fill="#ff4040"/>
<circle cx="249.7" cy="314.8" r="1.6" fill="#ff4040"/>
<circle cx="259.5" cy="323.4" r="1.6" fill="#ff4040"/>
<circle cx="269.3" cy="334.4" r="1.6" fill="#ff4040"/>
<circle cx="274.2" cy="345.5" r="1.6" fill="#ff4040"/>
<polyline points="59.6,309.7 60.1,309.4 60.7,309.0 61.5,308.7 62.3,308.4 63.3,308.2 64.2,307.7 65.2,307.0 66.2,306.5 67.3,306.3 68.3,306.1 69.2,305.9 70.1,305.6 71.0,305.1 71.8,305.1 72.6,305.6 73.5,306.1 74.3,306.3 75.1,306.0 76.0,305.8 76.8,306.0 77.6,306.7 78.4,307.4 79.3,307.7 80.1,307.5 80.9,307.4 81.8,307.7 82.6,308.4 83.4,309.1 84.2,309.4 85.0,309.4 85.9,309.4 86.7,309.8 87.5,310.6 88.3,311.5 89.2,312.0 90.0,312.1 90.8,312.1 91.7,312.7 92.5,313.8 93.3,314.9 94.2,315.5 95.0,315.7 95.8,315.9 96.7,316.6 97.5,317.8 98.3,319.1 99.2,319.9 100.0,320.3 100.8,320.8 101.7,321.7 102.5,323.1 103.3,324.6 104.2,325.6 105.0,326.3 105.8,327.0 106.7,328.1 107.5,329.7 108.3,331.3 109.2,332.6 110.0,333.4 110.8,334.5 111.7,335.7 112.5,337.3 113.3,338.8 114.2,340.2 115.0,341.3 115.8,342.5 116.7,344.0 117.5,345.7 118.3,347.5 119.2,349.1 120.0,350.5 120.8,351.8 121.7,353.6 122.5,355.8 123.3,358.1 124.2,360.0 125.0,361.6 125.8,363.1 126.7,365.1 127.5,367.5 128.3,369.9 129.2,371.9 130.0,373.5 130.8,375.7 131.7,377.8 132.5,379.6 133.4,381.5 134.2,383.6 135.1,386.0 135.9,388.3 136.8,390.4 137.6,392.1 138.5,393.8 139.3,395.6 140.2,397.6 141.1,398.9 141.9,400.5 142.8,402.5 143.7,404.3 144.6,405.8 145.4,406.9 146.3,407.9 147.2,409.1 148.0,410.7 148.9,412.1 149.8,413.1 150.6,413.7 151.4,414.0 152.3,414.8 153.1,416.0 153.9,417.1 154.7,417.6 155.5,417.6 156.3,417.4 157.1,417.7 157.9,418.4 158.7,419.0 159.5,419.0 160.3,418.3 161.1,418.2 161.9,417.9 162.8,417.2 163.6,416.3 164.4,415.6 165.3,415.0 166.1,414.4 166.9,413.4 167.8,412.2 168.6,411.0 169.5,410.0 170.3,409.1 171.1,407.7 172.0,406.5 172.8,405.4 173.7,404.3 174.5,402.9 175.4,401.1 176.2,399.4 177.1,397.9 177.9,396.7 178.7,395.5 179.6,394.1 180.4,392.5 181.2,391.5 182.0,390.1 182.9,388.5 183.7,387.0 184.5,385.7 185.3,384.7 186.1,383.7 186.9,382.5 187.8,381.0 188.6,379.6 189.4,378.5 190.2,377.8 191.0,376.5 191.8,375.6 192.7,375.1 193.5,374.7 194.3,373.9 195.2,372.9 196.0,371.8 196.8,371.1 197.6,370.9 198.5,370.6 199.3,370.1 200.1,369.1 200.9,368.3 201.7,367.9 202.6,367.7 203.4,367.6 204.2,367.2 205.0,366.6 205.8,366.1 206.6,365.7 207.5,365.6 208.3,365.3 209.1,364.8 209.9,364.0 210.7,363.0 211.5,362.3 212.4,361.9 213.2,361.4 214.0,360.6 214.8,359.5 215.6,358.3 216.4,357.4 217.3,356.8 218.1,356.1 218.9,355.1 219.7,353.8 220.5,352.2 221.3,351.2 222.1,350.5 222.9,349.8 223.7,348.6 224.5,346.9 225.3,345.2 226.2,343.9 227.0,343.2 227.8,342.4 228.6,341.2 229.4,339.4 230.2,337.9 231.0,336.5 231.8,335.5 232.7,334.4 233.5,333.1 234.3,331.5 235.1,329.9 236.0,328.5 236.8,327.5 237.6,326.6 238.5,325.5 239.3,324.1 240.2,323.3 241.0,322.3 241.9,321.1 242.8,319.9 243.6,319.0 244.5,318.4 245.4,317.8 246.3,317.0 247.1,316.1 248.0,315.2 248.9,314.6 249.7,314.3 250.5,314.0 251.4,313.6 252.2,313.0 253.0,312.5 253.8,312.3 254.6,312.2 255.4,312.3 256.3,312.2 257.1,312.0 257.9,311.8 258.7,312.0 259.5,312.3 260.3,312.2 261.2,312.6 262.1,313.5 262.9,314.5 263.8,315.0 264.7,315.2 265.6,315.6 266.4,316.6 267.2,317.7 268.0,318.7 268.7,319.2 269.3,319.5 269.9,320.4 270.5,320.7 271.0,321.1 271.5,321.8 271.9,322.7 272.4,323.5 272.8,323.9 273.1,324.2 273.4,324.6 273.7,325.0 274.0,325.5 274.2,326.0" fill="none" stroke="#1769f0" stroke-width="1.00" stroke-linejoin="round" clip-path="url(#cc)"/>
<path d="M59.6 307.6l2.0 3.3h-3.9z" fill="#1769f0"/>
<path d="M70.1 303.5l2.0 3.3h-3.9z" fill="#1769f0"/>
<path d="M80.1 305.4l2.0 3.3h-3.9z" fill="#1769f0"/>
<path d="M90.0 310.0l2.0 3.3h-3.9z" fill="#1769f0"/>
<path d="M100.0 318.2l2.0 3.3h-3.9z" fill="#1769f0"/>
<path d="M110.0 331.3l2.0 3.3h-3.9z" fill="#1769f0"/>
<path d="M120.0 348.4l2.0 3.3h-3.9z" fill="#1769f0"/>
<path d="M130.0 371.4l2.0 3.3h-3.9z" fill="#1769f0"/>
<path d="M140.2 395.5l2.0 3.3h-3.9z" fill="#1769f0"/>
<path d="M150.6 411.6l2.0 3.3h-3.9z" fill="#1769f0"/>
<path d="M160.3 416.2l2.0 3.3h-3.9z" fill="#1769f0"/>
<path d="M170.3 407.0l2.0 3.3h-3.9z" fill="#1769f0"/>
<path d="M180.4 390.4l2.0 3.3h-3.9z" fill="#1769f0"/>
<path d="M190.2 375.7l2.0 3.3h-3.9z" fill="#1769f0"/>
<path d="M200.1 367.0l2.0 3.3h-3.9z" fill="#1769f0"/>
<path d="M209.9 361.9l2.0 3.3h-3.9z" fill="#1769f0"/>
<path d="M219.7 351.7l2.0 3.3h-3.9z" fill="#1769f0"/>
<path d="M229.4 337.3l2.0 3.3h-3.9z" fill="#1769f0"/>
<path d="M239.3 322.0l2.0 3.3h-3.9z" fill="#1769f0"/>
<path d="M249.7 312.2l2.0 3.3h-3.9z" fill="#1769f0"/>
<path d="M259.5 310.2l2.0 3.3h-3.9z" fill="#1769f0"/>
<path d="M269.3 317.4l2.0 3.3h-3.9z" fill="#1769f0"/>
<path d="M274.2 323.9l2.0 3.3h-3.9z" fill="#1769f0"/>
<polyline points="59.6,320.3 60.1,319.8 60.7,319.1 61.5,318.2 62.3,317.0 63.3,315.7 64.2,314.6 65.2,313.6 66.2,312.5 67.3,311.2 68.3,309.8 69.2,308.8 70.1,308.0 71.0,306.9 71.8,306.0 72.6,305.4 73.5,304.7 74.3,303.9 75.1,302.9 76.0,301.9 76.8,301.2 77.6,300.7 78.4,300.3 79.3,299.7 80.1,299.0 80.9,298.6 81.8,298.2 82.6,297.8 83.4,297.3 84.2,297.1 85.0,296.9 85.9,296.8 86.7,296.6 87.5,296.4 88.3,296.2 89.2,296.2 90.0,296.2 90.8,296.0 91.7,296.1 92.5,296.3 93.3,296.5 94.2,296.6 95.0,296.6 95.8,296.7 96.7,296.9 97.5,297.3 98.3,297.7 99.2,298.0 100.0,298.2 100.8,298.8 101.7,299.2 102.5,299.4 103.3,299.7 104.2,300.1 105.0,300.8 105.8,301.6 106.7,302.2 107.5,302.6 108.3,303.1 109.2,303.8 110.0,304.8 110.8,305.7 111.7,306.6 112.5,307.4 113.3,308.2 114.2,309.2 115.0,310.4 115.8,311.6 116.7,312.7 117.5,313.7 118.3,314.8 119.2,316.0 120.0,317.3 120.8,318.7 121.7,320.0 122.5,321.1 123.3,322.3 124.2,323.7 125.0,325.3 125.8,326.9 126.7,328.4 127.5,329.7 128.3,331.0 129.2,332.6 130.0,334.4 130.8,336.2 131.7,337.9 132.5,339.5 133.4,341.1 134.2,342.9 135.1,344.9 135.9,346.9 136.8,348.8 137.6,350.5 138.5,352.3 139.3,354.2 140.2,356.3 141.1,358.1 141.9,360.1 142.8,362.3 143.7,364.5 144.6,366.5 145.4,368.5 146.3,370.5 147.2,372.5 148.0,374.7 148.9,376.8 149.8,378.8 150.6,380.6 151.4,382.3 152.3,384.3 153.1,386.4 153.9,388.6 154.7,390.5 155.5,392.2 156.3,393.9 157.1,395.7 157.9,397.5 158.7,399.2 159.5,400.7 160.3,401.8 161.1,402.8 161.9,403.9 162.8,405.0 163.6,406.1 164.4,406.9 165.3,407.4 166.1,407.9 166.9,408.4 167.8,409.0 168.6,409.5 169.5,409.7 170.3,409.7 171.1,409.8 172.0,409.7 172.8,409.5 173.7,409.1 174.5,408.7 175.4,408.3 176.2,407.8 177.1,407.2 177.9,406.4 178.7,405.6 179.6,404.8 180.4,404.1 181.2,403.0 182.0,402.0 182.9,401.1 183.7,400.2 184.5,398.9 185.3,397.4 186.1,395.9 186.9,394.6 187.8,393.5 188.6,392.4 189.4,391.2 190.2,389.8 191.0,388.5 191.8,387.4 192.7,386.3 193.5,385.2 194.3,384.1 195.2,382.8 196.0,381.6 196.8,380.5 197.6,379.5 198.5,378.6 199.3,377.6 200.1,376.5 200.9,375.5 201.7,374.6 202.6,373.9 203.4,373.2 204.2,372.4 205.0,371.5 205.8,370.7 206.6,370.0 207.5,369.4 208.3,368.9 209.1,368.3 209.9,367.6 210.7,366.8 211.5,366.4 212.4,366.2 213.2,366.0 214.0,365.7 214.8,365.1 215.6,364.6 216.4,364.2 217.3,364.2 218.1,364.0 218.9,363.7 219.7,363.0 220.5,362.7 221.3,362.2 222.1,361.7 222.9,361.2 223.7,360.7 224.5,360.3 225.3,360.0 226.2,359.5 227.0,358.8 227.8,358.2 228.6,357.6 229.4,357.0 230.2,356.2 231.0,355.4 231.8,354.8 232.7,354.2 233.5,353.4 234.3,352.4 235.1,351.4 236.0,350.5 236.8,349.7 237.6,348.9 238.5,347.9 239.3,346.8 240.2,345.9 241.0,344.9 241.9,343.7 242.8,342.4 243.6,341.3 244.5,340.2 245.4,339.2 246.3,338.0 247.1,336.7 248.0,335.4 248.9,334.2 249.7,333.2 250.5,332.2 251.4,331.0 252.2,329.6 253.0,328.1 253.8,326.9 254.6,325.8 255.4,324.8 256.3,323.6 257.1,322.2 257.9,321.0 258.7,320.0 259.5,319.2 260.3,318.4 261.2,317.6 262.1,316.7 262.9,315.9 263.8,315.3 264.7,314.8 265.6,314.3 266.4,313.7 267.2,313.0 268.0,312.5 268.7,312.1 269.3,311.8 269.9,311.2 270.5,311.2 271.0,311.2 271.5,311.0 271.9,310.6 272.4,310.4 272.8,310.4 273.1,310.6 273.4,310.6 273.7,310.6 274.0,310.5 274.2,310.3" fill="none" stroke="#1faa78" stroke-width="1.00" stroke-linejoin="round" clip-path="url(#cc)"/>
<path d="M57.9 319.1h3.4l-1.7 2.9z" fill="#1faa78"/>
<path d="M68.4 306.8h3.4l-1.7 2.9z" fill="#1faa78"/>
<path d="M78.4 297.8h3.4l-1.7 2.9z" fill="#1faa78"/>
<path d="M88.3 295.0h3.4l-1.7 2.9z" fill="#1faa78"/>
<path d="M98.3 297.0h3.4l-1.7 2.9z" fill="#1faa78"/>
<path d="M108.3 303.6h3.4l-1.7 2.9z" fill="#1faa78"/>
<path d="M118.3 316.1h3.4l-1.7 2.9z" fill="#1faa78"/>
<path d="M128.3 333.2h3.4l-1.7 2.9z" fill="#1faa78"/>
<path d="M138.5 355.1h3.4l-1.7 2.9z" fill="#1faa78"/>
<path d="M148.9 379.4h3.4l-1.7 2.9z" fill="#1faa78"/>
<path d="M158.6 400.6h3.4l-1.7 2.9z" fill="#1faa78"/>
<path d="M168.6 408.5h3.4l-1.7 2.9z" fill="#1faa78"/>
<path d="M178.7 402.9h3.4l-1.7 2.9z" fill="#1faa78"/>
<path d="M188.5 388.6h3.4l-1.7 2.9z" fill="#1faa78"/>
<path d="M198.4 375.3h3.4l-1.7 2.9z" fill="#1faa78"/>
<path d="M208.2 366.4h3.4l-1.7 2.9z" fill="#1faa78"/>
<path d="M218.0 361.8h3.4l-1.7 2.9z" fill="#1faa78"/>
<path d="M227.7 355.8h3.4l-1.7 2.9z" fill="#1faa78"/>
<path d="M237.6 345.6h3.4l-1.7 2.9z" fill="#1faa78"/>
<path d="M248.0 332.0h3.4l-1.7 2.9z" fill="#1faa78"/>
<path d="M257.8 318.0h3.4l-1.7 2.9z" fill="#1faa78"/>
<path d="M267.6 310.6h3.4l-1.7 2.9z" fill="#1faa78"/>
<path d="M272.5 309.1h3.4l-1.7 2.9z" fill="#1faa78"/>
<polyline points="59.6,325.2 60.1,324.5 60.7,323.5 61.5,322.3 62.3,320.8 63.3,319.2 64.2,317.7 65.2,316.3 66.2,314.8 67.3,313.1 68.3,311.5 69.2,310.1 70.1,308.9 71.0,307.8 71.8,306.6 72.6,305.4 73.5,304.1 74.3,303.0 75.1,302.1 76.0,301.1 76.8,300.1 77.6,299.0 78.4,297.9 79.3,297.0 80.1,296.2 80.9,295.2 81.8,294.4 82.6,293.7 83.4,293.0 84.2,292.3 85.0,291.4 85.9,290.6 86.7,289.9 87.5,289.5 88.3,289.1 89.2,288.6 90.0,288.0 90.8,287.5 91.7,287.1 92.5,287.0 93.3,286.9 94.2,286.8 95.0,286.5 95.8,286.2 96.7,286.1 97.5,286.3 98.3,286.5 99.2,286.6 100.0,286.6 100.8,286.7 101.7,286.9 102.5,287.4 103.3,287.9 104.2,288.3 105.0,288.6 105.8,289.0 106.7,289.5 107.5,290.2 108.3,290.9 109.2,291.5 110.0,292.0 110.8,292.4 111.7,293.0 112.5,294.0 113.3,294.9 114.2,295.6 115.0,296.2 115.8,296.7 116.7,297.5 117.5,298.6 118.3,299.8 119.2,300.8 120.0,301.5 120.8,302.3 121.7,303.4 122.5,304.7 123.3,306.2 124.2,307.4 125.0,308.4 125.8,309.4 126.7,310.7 127.5,312.2 128.3,313.9 129.2,315.2 130.0,316.4 130.8,317.7 131.7,319.2 132.5,320.7 133.4,322.3 134.2,323.8 135.1,325.2 135.9,326.7 136.8,328.3 137.6,330.1 138.5,332.0 139.3,333.7 140.2,335.5 141.1,337.6 141.9,339.6 142.8,341.6 143.7,343.6 144.6,345.8 145.4,348.2 146.3,350.6 147.2,352.9 148.0,355.0 148.9,357.2 149.8,359.5 150.6,361.8 151.4,364.1 152.3,366.4 153.1,368.6 153.9,370.9 154.7,373.3 155.5,375.7 156.3,378.1 157.1,380.3 157.9,382.4 158.7,384.4 159.5,386.4 160.3,388.3 161.1,390.0 161.9,391.7 162.8,393.5 163.6,395.2 164.4,396.8 165.3,398.2 166.1,399.4 166.9,400.7 167.8,402.0 168.6,403.1 169.5,403.9 170.3,404.5 171.1,404.8 172.0,405.1 172.8,405.6 173.7,406.0 174.5,405.9 175.4,405.6 176.2,405.1 177.1,404.7 177.9,404.5 178.7,404.2 179.6,403.6 180.4,402.7 181.2,402.0 182.0,401.1 182.9,399.9 183.7,398.5 184.5,397.2 185.3,396.0 186.1,394.7 186.9,393.3 187.8,391.7 188.6,390.1 189.4,388.8 190.2,387.6 191.0,386.5 191.8,385.2 192.7,383.6 193.5,382.0 194.3,380.7 195.2,379.5 196.0,378.4 196.8,377.1 197.6,375.6 198.5,374.2 199.3,373.1 200.1,372.3 200.9,371.2 201.7,370.3 202.6,369.6 203.4,368.9 204.2,368.1 205.0,367.3 205.8,366.6 206.6,366.0 207.5,365.5 208.3,365.0 209.1,364.6 209.9,364.0 210.7,363.7 211.5,363.4 212.4,363.0 213.2,362.8 214.0,362.6 214.8,362.6 215.6,362.6 216.4,362.5 217.3,362.3 218.1,362.1 218.9,361.9 219.7,361.8 220.5,361.7 221.3,361.5 222.1,361.1 222.9,360.7 223.7,360.5 224.5,360.4 225.3,360.2 226.2,360.0 227.0,359.5 227.8,359.0 228.6,358.7 229.4,358.4 230.2,358.2 231.0,357.7 231.8,357.1 232.7,356.4 233.5,355.9 234.3,355.5 235.1,355.2 236.0,354.6 236.8,353.8 237.6,352.9 238.5,352.2 239.3,351.7 240.2,350.8 241.0,349.9 241.9,349.3 242.8,348.6 243.6,347.7 244.5,346.6 245.4,345.4 246.3,344.5 247.1,343.7 248.0,342.8 248.9,341.8 249.7,340.6 250.5,339.7 251.4,338.6 252.2,337.3 253.0,336.0 253.8,334.8 254.6,333.8 255.4,332.7 256.3,331.5 257.1,330.2 257.9,329.0 258.7,327.9 259.5,327.1 260.3,326.4 261.2,325.5 262.1,324.3 262.9,323.2 263.8,322.4 264.7,321.8 265.6,321.2 266.4,320.4 267.2,319.4 268.0,318.6 268.7,318.0 269.3,317.7 269.9,317.1 270.5,316.8 271.0,316.6 271.5,316.2 271.9,315.8 272.4,315.5 272.8,315.4 273.1,315.4 273.4,315.3 273.7,315.2 274.0,315.0 274.2,314.8" fill="none" stroke="#c77af5" stroke-width="0.95" stroke-linejoin="round" clip-path="url(#cc)"/>
<circle cx="59.6" cy="325.2" r="1.7" fill="#c77af5"/>
<circle cx="70.1" cy="308.9" r="1.7" fill="#c77af5"/>
<circle cx="80.1" cy="296.2" r="1.7" fill="#c77af5"/>
<circle cx="90.0" cy="288.0" r="1.7" fill="#c77af5"/>
<circle cx="100.0" cy="286.6" r="1.7" fill="#c77af5"/>
<circle cx="110.0" cy="292.0" r="1.7" fill="#c77af5"/>
<circle cx="120.0" cy="301.5" r="1.7" fill="#c77af5"/>
<circle cx="130.0" cy="316.4" r="1.7" fill="#c77af5"/>
<circle cx="140.2" cy="335.5" r="1.7" fill="#c77af5"/>
<circle cx="150.6" cy="361.8" r="1.7" fill="#c77af5"/>
<circle cx="160.3" cy="388.3" r="1.7" fill="#c77af5"/>
<circle cx="170.3" cy="404.5" r="1.7" fill="#c77af5"/>
<circle cx="180.4" cy="402.7" r="1.7" fill="#c77af5"/>
<circle cx="190.2" cy="387.6" r="1.7" fill="#c77af5"/>
<circle cx="200.1" cy="372.3" r="1.7" fill="#c77af5"/>
<circle cx="209.9" cy="364.0" r="1.7" fill="#c77af5"/>
<circle cx="219.7" cy="361.8" r="1.7" fill="#c77af5"/>
<circle cx="229.4" cy="358.4" r="1.7" fill="#c77af5"/>
<circle cx="239.3" cy="351.7" r="1.7" fill="#c77af5"/>
<circle cx="249.7" cy="340.6" r="1.7" fill="#c77af5"/>
<circle cx="259.5" cy="327.1" r="1.7" fill="#c77af5"/>
<circle cx="269.3" cy="317.7" r="1.7" fill="#c77af5"/>
<circle cx="274.2" cy="314.8" r="1.7" fill="#c77af5"/>
<polyline points="59.6,344.9 60.1,343.7 60.7,342.3 61.5,340.9 62.3,339.5 63.3,337.9 64.2,335.9 65.2,333.6 66.2,331.5 67.3,329.7 68.3,328.1 69.2,326.3 70.1,324.4 71.0,323.1 71.8,321.5 72.6,319.8 73.5,318.1 74.3,316.6 75.1,315.4 76.0,314.2 76.8,312.8 77.6,311.2 78.4,309.6 79.3,308.3 80.1,307.2 80.9,306.1 81.8,304.9 82.6,303.4 83.4,301.9 84.2,300.7 85.0,299.8 85.9,298.8 86.7,297.7 87.5,296.3 88.3,294.9 89.2,293.8 90.0,293.0 90.8,291.8 91.7,290.7 92.5,289.8 93.3,288.8 94.2,287.8 95.0,286.6 95.8,285.5 96.7,284.5 97.5,283.8 98.3,283.1 99.2,282.3 100.0,281.4 100.8,280.8 101.7,280.2 102.5,279.6 103.3,278.9 104.2,278.4 105.0,278.1 105.8,277.8 106.7,277.5 107.5,277.1 108.3,276.8 109.2,276.6 110.0,276.6 110.8,276.8 111.7,276.8 112.5,276.6 113.3,276.4 114.2,276.6 115.0,277.0 115.8,277.5 116.7,277.8 117.5,277.9 118.3,278.0 119.2,278.4 120.0,279.1 120.8,279.4 121.7,280.0 122.5,280.8 123.3,281.6 124.2,282.3 125.0,282.8 125.8,283.4 126.7,284.2 127.5,285.2 128.3,286.3 129.2,287.2 130.0,287.9 130.8,288.9 131.7,289.9 132.5,290.8 133.4,291.7 134.2,292.8 135.1,294.0 135.9,295.2 136.8,296.3 137.6,297.4 138.5,298.5 139.3,299.8 140.2,301.1 141.1,302.2 141.9,303.5 142.8,305.0 143.7,306.6 144.6,308.0 145.4,309.2 146.3,310.5 147.2,312.0 148.0,313.7 148.9,315.5 149.8,317.1 150.6,318.6 151.4,320.2 152.3,322.0 153.1,323.9 153.9,325.9 154.7,327.8 155.5,329.7 156.3,331.6 157.1,333.6 157.9,335.7 158.7,337.8 159.5,339.8 160.3,341.8 161.1,344.0 161.9,346.2 162.8,348.2 163.6,350.2 164.4,352.4 165.3,354.8 166.1,357.2 166.9,359.4 167.8,361.4 168.6,363.3 169.5,365.4 170.3,367.6 171.1,369.8 172.0,371.8 172.8,373.7 173.7,375.6 174.5,377.6 175.4,379.7 176.2,381.8 177.1,383.6 177.9,385.1 178.7,386.5 179.6,388.0 180.4,389.4 181.2,390.4 182.0,391.4 182.9,392.6 183.7,393.6 184.5,394.3 185.3,394.8 186.1,395.2 186.9,395.6 187.8,396.0 188.6,396.4 189.4,396.4 190.2,396.2 191.0,396.2 191.8,395.8 192.7,395.0 193.5,394.1 194.3,393.3 195.2,392.6 196.0,391.9 196.8,390.8 197.6,389.5 198.5,388.1 199.3,387.0 200.1,386.1 200.9,385.2 201.7,383.9 202.6,382.3 203.4,380.6 204.2,379.2 205.0,377.9 205.8,376.7 206.6,375.2 207.5,373.5 208.3,371.8 209.1,370.5 209.9,369.5 210.7,368.5 211.5,367.3 212.4,366.0 213.2,364.7 214.0,363.6 214.8,362.7 215.6,361.9 216.4,360.9 217.3,359.8 218.1,358.8 218.9,358.0 219.7,357.5 220.5,356.7 221.3,356.2 222.1,356.0 222.9,355.8 223.7,355.5 224.5,355.0 225.3,354.6 226.2,354.4 227.0,354.4 227.8,354.4 228.6,354.2 229.4,353.8 230.2,353.4 231.0,353.2 231.8,353.2 232.7,353.2 233.5,353.0 234.3,352.8 235.1,352.5 236.0,352.3 236.8,352.3 237.6,352.3 238.5,352.1 239.3,351.7 240.2,351.6 241.0,351.4 241.9,351.0 242.8,350.7 243.6,350.5 244.5,350.3 245.4,350.2 246.3,349.9 247.1,349.4 248.0,348.9 248.9,348.4 249.7,348.0 250.5,347.5 251.4,346.8 252.2,346.0 253.0,345.0 253.8,344.2 254.6,343.4 255.4,342.6 256.3,341.7 257.1,340.7 257.9,339.7 258.7,338.8 259.5,338.1 260.3,337.5 261.2,336.6 262.1,335.5 262.9,334.4 263.8,333.6 264.7,333.0 265.6,332.3 266.4,331.3 267.2,330.3 268.0,329.4 268.7,328.8 269.3,328.3 269.9,327.5 270.5,327.1 271.0,326.8 271.5,326.3 271.9,325.6 272.4,325.0 272.8,324.7 273.1,324.6 273.4,324.4 273.7,324.1 274.0,323.7 274.2,323.4" fill="none" stroke="#f0a42a" stroke-width="1.00" stroke-linejoin="round" clip-path="url(#cc)"/>
<path d="M59.6 343.3l1.6 1.6l-1.6 1.6l-1.6 -1.6z" fill="#f0a42a"/>
<path d="M70.1 322.8l1.6 1.6l-1.6 1.6l-1.6 -1.6z" fill="#f0a42a"/>
<path d="M80.1 305.6l1.6 1.6l-1.6 1.6l-1.6 -1.6z" fill="#f0a42a"/>
<path d="M90.0 291.4l1.6 1.6l-1.6 1.6l-1.6 -1.6z" fill="#f0a42a"/>
<path d="M100.0 279.8l1.6 1.6l-1.6 1.6l-1.6 -1.6z" fill="#f0a42a"/>
<path d="M110.0 275.0l1.6 1.6l-1.6 1.6l-1.6 -1.6z" fill="#f0a42a"/>
<path d="M120.0 277.5l1.6 1.6l-1.6 1.6l-1.6 -1.6z" fill="#f0a42a"/>
<path d="M130.0 286.3l1.6 1.6l-1.6 1.6l-1.6 -1.6z" fill="#f0a42a"/>
<path d="M140.2 299.5l1.6 1.6l-1.6 1.6l-1.6 -1.6z" fill="#f0a42a"/>
<path d="M150.6 317.0l1.6 1.6l-1.6 1.6l-1.6 -1.6z" fill="#f0a42a"/>
<path d="M160.3 340.2l1.6 1.6l-1.6 1.6l-1.6 -1.6z" fill="#f0a42a"/>
<path d="M170.3 366.0l1.6 1.6l-1.6 1.6l-1.6 -1.6z" fill="#f0a42a"/>
<path d="M180.4 387.8l1.6 1.6l-1.6 1.6l-1.6 -1.6z" fill="#f0a42a"/>
<path d="M190.2 394.6l1.6 1.6l-1.6 1.6l-1.6 -1.6z" fill="#f0a42a"/>
<path d="M200.1 384.5l1.6 1.6l-1.6 1.6l-1.6 -1.6z" fill="#f0a42a"/>
<path d="M209.9 367.9l1.6 1.6l-1.6 1.6l-1.6 -1.6z" fill="#f0a42a"/>
<path d="M219.7 355.9l1.6 1.6l-1.6 1.6l-1.6 -1.6z" fill="#f0a42a"/>
<path d="M229.4 352.2l1.6 1.6l-1.6 1.6l-1.6 -1.6z" fill="#f0a42a"/>
<path d="M239.3 350.1l1.6 1.6l-1.6 1.6l-1.6 -1.6z" fill="#f0a42a"/>
<path d="M249.7 346.4l1.6 1.6l-1.6 1.6l-1.6 -1.6z" fill="#f0a42a"/>
<path d="M259.5 336.5l1.6 1.6l-1.6 1.6l-1.6 -1.6z" fill="#f0a42a"/>
<path d="M269.3 326.7l1.6 1.6l-1.6 1.6l-1.6 -1.6z" fill="#f0a42a"/>
<path d="M274.2 321.8l1.6 1.6l-1.6 1.6l-1.6 -1.6z" fill="#f0a42a"/>
<polyline points="59.6,362.1 60.1,360.8 60.7,359.0 61.5,356.8 62.3,354.3 63.3,351.6 64.2,348.9 65.2,346.2 66.2,343.4 67.3,340.5 68.3,337.7 69.2,335.2 70.1,333.0 71.0,331.0 71.8,328.9 72.6,326.7 73.5,324.6 74.3,322.7 75.1,320.9 76.0,319.1 76.8,317.3 77.6,315.4 78.4,313.6 79.3,312.0 80.1,310.5 80.9,308.8 81.8,307.3 82.6,306.2 83.4,305.1 84.2,303.8 85.0,302.4 85.9,301.0 86.7,299.9 87.5,299.0 88.3,298.1 89.2,297.0 90.0,295.7 90.8,294.8 91.7,293.7 92.5,292.4 93.3,291.1 94.2,290.0 95.0,289.3 95.8,288.5 96.7,287.6 97.5,286.4 98.3,285.3 99.2,284.5 100.0,284.0 100.8,283.5 101.7,282.9 102.5,282.2 103.3,281.5 104.2,281.1 105.0,280.8 105.8,280.5 106.7,280.2 107.5,279.7 108.3,279.2 109.2,278.8 110.0,278.6 110.8,278.4 111.7,278.1 112.5,277.5 113.3,276.9 114.2,276.6 115.0,276.5 115.8,276.4 116.7,276.1 117.5,275.7 118.3,275.3 119.2,275.1 120.0,275.2 120.8,274.9 121.7,274.8 122.5,275.0 123.3,275.3 124.2,275.4 125.0,275.2 125.8,275.0 126.7,275.2 127.5,275.6 128.3,276.0 129.2,276.3 130.0,276.3 130.8,276.3 131.7,276.6 132.5,277.2 133.4,277.8 134.2,278.2 135.1,278.4 135.9,278.6 136.8,279.2 137.6,280.0 138.5,280.9 139.3,281.6 140.2,282.2 141.1,283.0 141.9,283.9 142.8,285.1 143.7,286.2 144.6,287.4 145.4,288.5 146.3,289.6 147.2,291.0 148.0,292.4 148.9,293.9 149.8,295.3 150.6,296.7 151.4,298.5 152.3,300.0 153.1,301.4 153.9,302.9 154.7,304.7 155.5,306.7 156.3,308.8 157.1,310.6 157.9,312.2 158.7,313.9 159.5,315.8 160.3,317.9 161.1,319.7 161.9,321.7 162.8,323.8 163.6,325.9 164.4,327.9 165.3,329.9 166.1,331.9 166.9,333.9 167.8,336.1 168.6,338.2 169.5,340.2 170.3,342.0 171.1,343.7 172.0,345.7 172.8,347.9 173.7,350.1 174.5,352.0 175.4,353.8 176.2,355.4 177.1,357.3 177.9,359.3 178.7,361.2 179.6,362.7 180.4,364.0 181.2,365.3 182.0,366.6 182.9,368.0 183.7,369.3 184.5,370.5 185.3,371.4 186.1,372.3 186.9,373.2 187.8,374.1 188.6,375.0 189.4,375.6 190.2,376.0 191.0,376.2 191.8,376.5 192.7,376.9 193.5,377.2 194.3,377.2 195.2,376.9 196.0,376.5 196.8,376.3 197.6,376.2 198.5,376.0 199.3,375.6 200.1,375.0 200.9,374.2 201.7,373.5 202.6,373.0 203.4,372.3 204.2,371.4 205.0,370.2 205.8,368.9 206.6,368.0 207.5,367.3 208.3,366.6 209.1,365.8 209.9,364.9 210.7,364.1 211.5,363.7 212.4,363.4 213.2,363.3 214.0,363.0 214.8,362.5 215.6,362.0 216.4,361.7 217.3,361.5 218.1,361.4 218.9,361.0 219.7,360.3 220.5,360.0 221.3,359.3 222.1,358.4 222.9,357.5 223.7,356.7 224.5,356.2 225.3,355.6 226.2,354.9 227.0,354.0 227.8,353.2 228.6,352.7 229.4,352.5 230.2,352.1 231.0,351.8 231.8,351.8 232.7,351.9 233.5,351.8 234.3,351.7 235.1,351.6 236.0,351.6 236.8,351.8 237.6,351.9 238.5,351.9 239.3,351.7 240.2,351.8 241.0,351.7 241.9,351.5 242.8,351.3 243.6,351.3 244.5,351.4 245.4,351.4 246.3,351.3 247.1,351.1 248.0,350.7 248.9,350.5 249.7,350.4 250.5,349.9 251.4,349.5 252.2,349.3 253.0,349.1 253.8,348.6 254.6,347.9 255.4,347.2 256.3,346.7 257.1,346.3 257.9,345.9 258.7,345.3 259.5,344.5 260.3,343.6 261.2,342.9 262.1,342.4 262.9,341.8 263.8,340.9 264.7,339.8 265.6,338.8 266.4,338.1 267.2,337.6 268.0,337.0 268.7,336.3 269.3,335.5 269.9,335.2 270.5,334.5 271.0,333.7 271.5,333.3 271.9,333.2 272.4,333.0 272.8,332.5 273.1,331.9 273.4,331.4 273.7,331.2 274.0,331.1 274.2,331.0" fill="none" stroke="#12d9dc" stroke-width="1.30" stroke-linejoin="round" clip-path="url(#cc)"/>
<circle cx="59.6" cy="362.1" r="1.7" fill="#12d9dc"/>
<circle cx="70.1" cy="333.0" r="1.7" fill="#12d9dc"/>
<circle cx="80.1" cy="310.5" r="1.7" fill="#12d9dc"/>
<circle cx="90.0" cy="295.7" r="1.7" fill="#12d9dc"/>
<circle cx="100.0" cy="284.0" r="1.7" fill="#12d9dc"/>
<circle cx="110.0" cy="278.6" r="1.7" fill="#12d9dc"/>
<circle cx="120.0" cy="275.2" r="1.7" fill="#12d9dc"/>
<circle cx="130.0" cy="276.3" r="1.7" fill="#12d9dc"/>
<circle cx="140.2" cy="282.2" r="1.7" fill="#12d9dc"/>
<circle cx="150.6" cy="296.7" r="1.7" fill="#12d9dc"/>
<circle cx="160.3" cy="317.9" r="1.7" fill="#12d9dc"/>
<circle cx="170.3" cy="342.0" r="1.7" fill="#12d9dc"/>
<circle cx="180.4" cy="364.0" r="1.7" fill="#12d9dc"/>
<circle cx="190.2" cy="376.0" r="1.7" fill="#12d9dc"/>
<circle cx="200.1" cy="375.0" r="1.7" fill="#12d9dc"/>
<circle cx="209.9" cy="364.9" r="1.7" fill="#12d9dc"/>
<circle cx="219.7" cy="360.3" r="1.7" fill="#12d9dc"/>
<circle cx="229.4" cy="352.5" r="1.7" fill="#12d9dc"/>
<circle cx="239.3" cy="351.7" r="1.7" fill="#12d9dc"/>
<circle cx="249.7" cy="350.4" r="1.7" fill="#12d9dc"/>
<circle cx="259.5" cy="344.5" r="1.7" fill="#12d9dc"/>
<circle cx="269.3" cy="335.5" r="1.7" fill="#12d9dc"/>
<circle cx="274.2" cy="331.0" r="1.7" fill="#12d9dc"/>
<rect x="211" y="374" width="62" height="72" fill="#fff"/>
<rect x="59.6" y="273.5" width="214.4" height="173.7" fill="none" stroke="#5e5e5e" stroke-width="1.40"/>
<line x1="59.6" y1="286.8" x2="62.8" y2="286.8" stroke="#484848" stroke-width="1.20"/>
<line x1="59.6" y1="313.4" x2="62.8" y2="313.4" stroke="#484848" stroke-width="1.20"/>
<line x1="59.6" y1="339.9" x2="62.8" y2="339.9" stroke="#484848" stroke-width="1.20"/>
<line x1="59.6" y1="366.5" x2="62.8" y2="366.5" stroke="#484848" stroke-width="1.20"/>
<line x1="59.6" y1="393.0" x2="62.8" y2="393.0" stroke="#484848" stroke-width="1.20"/>
<line x1="59.6" y1="419.6" x2="62.8" y2="419.6" stroke="#484848" stroke-width="1.20"/>
<line x1="86.5" y1="447.2" x2="86.5" y2="444.0" stroke="#484848" stroke-width="1.20"/>
<line x1="140.2" y1="447.2" x2="140.2" y2="444.0" stroke="#484848" stroke-width="1.20"/>
<line x1="193.9" y1="447.2" x2="193.9" y2="444.0" stroke="#484848" stroke-width="1.20"/>
<line x1="247.6" y1="447.2" x2="247.6" y2="444.0" stroke="#484848" stroke-width="1.20"/>
<text x="58.0" y="290.0" font-size="12.00" text-anchor="end" fill="#222"  stroke="#222" stroke-width="0.25">−14</text>
<text x="58.0" y="342.7" font-size="12.00" text-anchor="end" fill="#222"  stroke="#222" stroke-width="0.25">−16</text>
<text x="58.0" y="397.7" font-size="12.00" text-anchor="end" fill="#222"  stroke="#222" stroke-width="0.25">−18</text>
<text x="58.0" y="447.7" font-size="12.00" text-anchor="end" fill="#222"  stroke="#222" stroke-width="0.25">−20</text>
<text x="82.0" y="462.3" font-size="12.00" text-anchor="middle" fill="#222"  stroke="#222" stroke-width="0.25">1530</text>
<text x="136.5" y="462.3" font-size="12.00" text-anchor="middle" fill="#222"  stroke="#222" stroke-width="0.25">1535</text>
<text x="190.5" y="462.3" font-size="12.00" text-anchor="middle" fill="#222"  stroke="#222" stroke-width="0.25">1540</text>
<text x="244.0" y="462.3" font-size="12.00" text-anchor="middle" fill="#222"  stroke="#222" stroke-width="0.25">1545</text>
<text x="165.6" y="479.2" font-size="13.80" text-anchor="middle" fill="#222"  stroke="#222" stroke-width="0.25">Wavelength (nm)</text>
<text x="0" y="0" font-size="14.00" text-anchor="middle" fill="#222" transform="translate(25.4 362.2) rotate(-90)" stroke="#222" stroke-width="0.25">Transmission (dB)</text>
<line x1="213.3" y1="376.6" x2="232.6" y2="376.6" stroke="#505050" stroke-width="1.00"/>
<path d="M222.9 375.2l1.3 2.2h-2.6z" fill="#333"/>
<text x="234.5" y="379.8" font-size="9.0" fill="#333" stroke="#333" stroke-width="0.25">1.3325</text>
<line x1="213.3" y1="387.3" x2="232.6" y2="387.3" stroke="#ff4040" stroke-width="1.15"/>
<circle cx="222.9" cy="387.3" r="1.6" fill="#ff4040"/>
<text x="234.5" y="390.5" font-size="9.0" fill="#333" stroke="#333" stroke-width="0.25">1.3444</text>
<line x1="213.3" y1="397.8" x2="232.6" y2="397.8" stroke="#1769f0" stroke-width="1.20"/>
<path d="M222.9 395.7l2.0 3.3h-3.9z" fill="#1769f0"/>
<text x="234.5" y="401.0" font-size="9.0" fill="#333" stroke="#333" stroke-width="0.25">1.3571</text>
<line x1="213.3" y1="408.4" x2="232.6" y2="408.4" stroke="#1faa78" stroke-width="1.20"/>
<path d="M221.2 407.2h3.4l-1.7 2.9z" fill="#1faa78"/>
<text x="234.5" y="411.6" font-size="9.0" fill="#333" stroke="#333" stroke-width="0.25">1.3657</text>
<line x1="213.3" y1="418.9" x2="232.6" y2="418.9" stroke="#c77af5" stroke-width="1.15"/>
<circle cx="222.9" cy="418.9" r="1.7" fill="#c77af5"/>
<text x="234.5" y="422.1" font-size="9.0" fill="#333" stroke="#333" stroke-width="0.25">1.3740</text>
<line x1="213.3" y1="429.6" x2="232.6" y2="429.6" stroke="#f0a42a" stroke-width="1.20"/>
<path d="M222.9 428.0l1.6 1.6l-1.6 1.6l-1.6 -1.6z" fill="#f0a42a"/>
<text x="234.5" y="432.8" font-size="9.0" fill="#333" stroke="#333" stroke-width="0.25">1.3847</text>
<line x1="213.3" y1="440.1" x2="232.6" y2="440.1" stroke="#12d9dc" stroke-width="1.50"/>
<circle cx="222.9" cy="440.1" r="1.7" fill="#12d9dc"/>
<text x="234.5" y="443.3" font-size="9.0" fill="#333" stroke="#333" stroke-width="0.25">1.3945</text>
<text x="273.8" y="254.6" font-size="16.00" text-anchor="start" fill="#111" font-weight="bold" stroke="#111" stroke-width="0.25">(d)</text>
<line x1="326.4" y1="433.7" x2="329.4" y2="433.7" stroke="#3a3a3a" stroke-width="1.20"/>
<line x1="326.4" y1="421.1" x2="329.4" y2="421.1" stroke="#3a3a3a" stroke-width="1.20"/>
<line x1="326.4" y1="408.6" x2="329.4" y2="408.6" stroke="#3a3a3a" stroke-width="1.20"/>
<line x1="326.4" y1="396.0" x2="329.4" y2="396.0" stroke="#3a3a3a" stroke-width="1.20"/>
<line x1="326.4" y1="383.4" x2="329.4" y2="383.4" stroke="#3a3a3a" stroke-width="1.20"/>
<line x1="326.4" y1="370.8" x2="329.4" y2="370.8" stroke="#3a3a3a" stroke-width="1.20"/>
<line x1="326.4" y1="358.2" x2="329.4" y2="358.2" stroke="#3a3a3a" stroke-width="1.20"/>
<line x1="326.4" y1="345.7" x2="329.4" y2="345.7" stroke="#3a3a3a" stroke-width="1.20"/>
<line x1="326.4" y1="333.1" x2="329.4" y2="333.1" stroke="#3a3a3a" stroke-width="1.20"/>
<line x1="326.4" y1="320.5" x2="329.4" y2="320.5" stroke="#3a3a3a" stroke-width="1.20"/>
<line x1="326.4" y1="307.9" x2="329.4" y2="307.9" stroke="#3a3a3a" stroke-width="1.20"/>
<line x1="326.4" y1="295.4" x2="329.4" y2="295.4" stroke="#3a3a3a" stroke-width="1.20"/>
<line x1="326.4" y1="282.8" x2="329.4" y2="282.8" stroke="#3a3a3a" stroke-width="1.20"/>
<line x1="357.3" y1="445.7" x2="357.3" y2="442.7" stroke="#3a3a3a" stroke-width="1.20"/>
<line x1="388.1" y1="445.7" x2="388.1" y2="442.7" stroke="#3a3a3a" stroke-width="1.20"/>
<line x1="418.9" y1="445.7" x2="418.9" y2="442.7" stroke="#3a3a3a" stroke-width="1.20"/>
<line x1="449.7" y1="445.7" x2="449.7" y2="442.7" stroke="#3a3a3a" stroke-width="1.20"/>
<line x1="480.5" y1="445.7" x2="480.5" y2="442.7" stroke="#3a3a3a" stroke-width="1.20"/>
<line x1="511.3" y1="445.7" x2="511.3" y2="442.7" stroke="#3a3a3a" stroke-width="1.20"/>
<text x="320.3" y="287.5" font-size="12.00" text-anchor="end" fill="#222"  stroke="#222" stroke-width="0.25">6</text>
<text x="320.3" y="337.8" font-size="12.00" text-anchor="end" fill="#222"  stroke="#222" stroke-width="0.25">4</text>
<text x="320.3" y="388.6" font-size="12.00" text-anchor="end" fill="#222"  stroke="#222" stroke-width="0.25">2</text>
<text x="320.3" y="438.6" font-size="12.00" text-anchor="end" fill="#222"  stroke="#222" stroke-width="0.25">0</text>
<text x="322.9" y="462.3" font-size="12.00" text-anchor="middle" fill="#222"  stroke="#222" stroke-width="0.25">1.33</text>
<text x="352.2" y="462.3" font-size="12.00" text-anchor="middle" fill="#222"  stroke="#222" stroke-width="0.25">1.34</text>
<text x="383.0" y="462.3" font-size="12.00" text-anchor="middle" fill="#222"  stroke="#222" stroke-width="0.25">1.35</text>
<text x="413.8" y="462.3" font-size="12.00" text-anchor="middle" fill="#222"  stroke="#222" stroke-width="0.25">1.36</text>
<text x="444.6" y="462.3" font-size="12.00" text-anchor="middle" fill="#222"  stroke="#222" stroke-width="0.25">1.37</text>
<text x="475.4" y="462.3" font-size="12.00" text-anchor="middle" fill="#222"  stroke="#222" stroke-width="0.25">1.38</text>
<text x="506.2" y="462.3" font-size="12.00" text-anchor="middle" fill="#222"  stroke="#222" stroke-width="0.25">1.39</text>
<text x="534.5" y="462.3" font-size="12.00" text-anchor="middle" fill="#222"  stroke="#222" stroke-width="0.25">1.40</text>
<text x="428" y="479" font-size="13.8" text-anchor="middle" fill="#222" stroke="#222" stroke-width="0.25"><tspan font-style="italic">n</tspan><tspan font-style="italic" font-size="10" dy="2.5">sur</tspan><tspan dy="-2.5"> (RIU)</tspan></text>
<text x="0" y="0" font-size="14.1" text-anchor="middle" fill="#222" transform="translate(300.5 368) rotate(-90)" stroke="#222" stroke-width="0.25">Wavelength shift of <tspan font-family="Liberation Serif" font-style="italic" font-size="17">λ</tspan><tspan font-family="Liberation Serif" font-style="italic" font-size="13" dy="3.5">dip</tspan><tspan dy="-3.5"> (nm)</tspan></text>
<line x1="368.0" y1="424.3" x2="414.0" y2="411.2" stroke="#3a93ea" stroke-width="1.70" stroke-dasharray="3.2 2"/>
<line x1="330.0" y1="437.5" x2="440.0" y2="400.6" stroke="#ff2d2d" stroke-width="1.70" stroke-dasharray="3.2 2"/>
<line x1="440.0" y1="400.6" x2="530.0" y2="365.0" stroke="#ff2d2d" stroke-width="1.70" stroke-dasharray="3.2 2"/>
<line x1="330.0" y1="435.5" x2="440.0" y2="413.0" stroke="#2a2a2a" stroke-width="1.70" stroke-dasharray="3.2 2"/>
<line x1="440.0" y1="413.0" x2="529.0" y2="392.8" stroke="#2a2a2a" stroke-width="1.70" stroke-dasharray="3.2 2"/>
<line x1="413.7" y1="410.7" x2="528.5" y2="280.5" stroke="#1a72e6" stroke-width="1.70" stroke-dasharray="3.2 2"/>
<rect x="331.7" y="431.0" width="5.0" height="5.0" fill="#444"/>
<rect x="368.4" y="421.3" width="5.0" height="5.0" fill="#444"/>
<rect x="407.5" y="415.9" width="5.0" height="5.0" fill="#444"/>
<rect x="434.0" y="408.8" width="5.0" height="5.0" fill="#444"/>
<rect x="459.6" y="407.8" width="5.0" height="5.0" fill="#444"/>
<rect x="492.5" y="396.7" width="5.0" height="5.0" fill="#444"/>
<rect x="522.8" y="388.8" width="5.0" height="5.0" fill="#444"/>
<circle cx="334.2" cy="433.5" r="2.8" fill="#f03a3a"/>
<circle cx="370.9" cy="418.0" r="2.8" fill="#f03a3a"/>
<circle cx="410.0" cy="409.8" r="2.8" fill="#f03a3a"/>
<circle cx="436.5" cy="406.3" r="2.8" fill="#f03a3a"/>
<circle cx="462.1" cy="396.6" r="2.8" fill="#f03a3a"/>
<circle cx="495.0" cy="384.4" r="2.8" fill="#f03a3a"/>
<circle cx="525.3" cy="359.6" r="2.8" fill="#f03a3a"/>
<path d="M334.2 429.2L337.7 435.3L330.7 435.3Z" fill="#1565e0"/>
<path d="M370.9 424.6L374.4 430.7L367.4 430.7Z" fill="#1565e0"/>
<path d="M410.0 405.5L413.5 411.6L406.5 411.6Z" fill="#1565e0"/>
<path d="M436.5 390.8L440.0 396.9L433.0 396.9Z" fill="#1565e0"/>
<path d="M462.1 360.6L465.6 366.7L458.6 366.7Z" fill="#1565e0"/>
<path d="M495.0 328.2L498.5 334.3L491.5 334.3Z" fill="#1565e0"/>
<path d="M525.3 272.4L528.8 278.5L521.8 278.5Z" fill="#1565e0"/>
<rect x="345.7" y="274.1" width="4.6" height="4.6" fill="#444"/>
<circle cx="348.3" cy="287.4" r="2.8" fill="#f03a3a"/>
<path d="M348.3 295.4L351.8 301.5L344.8 301.5Z" fill="#1565e0"/>
<text x="355.5" y="279.3" font-size="8.1" font-weight="bold" fill="#222" stroke="#222" stroke-width="0.25"><tspan font-style="italic">D</tspan><tspan font-style="italic" font-size="5.6" dy="2">p</tspan><tspan dy="-2"> = 91 µm</tspan></text>
<text x="355.5" y="290.4" font-size="8.1" font-weight="bold" fill="#222" stroke="#222" stroke-width="0.25"><tspan font-style="italic">D</tspan><tspan font-style="italic" font-size="5.6" dy="2">p</tspan><tspan dy="-2"> = 85 µm</tspan></text>
<text x="355.5" y="302.0" font-size="8.1" font-weight="bold" fill="#222" stroke="#222" stroke-width="0.25"><tspan font-style="italic">D</tspan><tspan font-style="italic" font-size="5.6" dy="2">p</tspan><tspan dy="-2"> = 79 µm</tspan></text>
<text x="329.1" y="345.0" font-size="8.20" text-anchor="start" fill="#3a93ea"  stroke="#3a93ea" stroke-width="0.25">Slope: 39.07 nm/RIU</text>
<text x="343.1" y="355.3" font-size="8.20" text-anchor="start" fill="#3a93ea"  stroke="#3a93ea" stroke-width="0.25">(<tspan font-style="italic">R</tspan><tspan font-size="5.5" dy="-3">2</tspan><tspan dy="3"> = 0.9042)</tspan></text>
<text x="359.3" y="381.3" font-size="8.20" text-anchor="start" fill="#ff2d2d"  stroke="#ff2d2d" stroke-width="0.25">Slope: 39.53 nm/RIU</text>
<text x="374.0" y="390.7" font-size="8.20" text-anchor="start" fill="#ff2d2d"  stroke="#ff2d2d" stroke-width="0.25">(<tspan font-style="italic">R</tspan><tspan font-size="5.5" dy="-3">2</tspan><tspan dy="3"> = 0.9740)</tspan></text>
<text x="463.9" y="423.9" font-size="8.20" text-anchor="start" fill="#333"  stroke="#333" stroke-width="0.25">Slope: 30.49 nm/RIU</text>
<text x="478.2" y="434.0" font-size="8.20" text-anchor="start" fill="#333"  stroke="#333" stroke-width="0.25">(<tspan font-style="italic">R</tspan><tspan font-size="5.5" dy="-3">2</tspan><tspan dy="3"> = 0.9578)</tspan></text>
<text x="342.9" y="441.3" font-size="8.40" text-anchor="start" fill="#333"  stroke="#333" stroke-width="0.25">Slope: 23.93 nm/RIU (<tspan font-style="italic">R</tspan><tspan font-size="5.5" dy="-3">2</tspan><tspan dy="3"> = 0.9842)</tspan></text>
<text x="0" y="0" font-size="8.2" fill="#1a72e6" transform="translate(433.5 344.5) rotate(-47)" stroke="#1a72e6" stroke-width="0.25">Slope: 166.69 nm/RIU</text>
<text x="0" y="0" font-size="8.2" fill="#1a72e6" transform="translate(453.5 340.5) rotate(-49)" stroke="#1a72e6" stroke-width="0.25">(<tspan font-style="italic">R</tspan><tspan font-size="5.5" dy="-3">2</tspan><tspan dy="3"> = 0.9631)</tspan></text>
<text x="0" y="0" font-size="8.2" fill="#ff2d2d" transform="translate(471 364) rotate(-21.5)" stroke="#ff2d2d" stroke-width="0.25">Slope: 61.75 nm/RIU</text>
<text x="0" y="0" font-size="8.2" fill="#ff2d2d" transform="translate(488 369.5) rotate(-23.5)" stroke="#ff2d2d" stroke-width="0.25">(<tspan font-style="italic">R</tspan><tspan font-size="5.5" dy="-3">2</tspan><tspan dy="3"> = 0.9560)</tspan></text>
<line x1="356.8" y1="430.0" x2="356.8" y2="358.2" stroke="#3a93ea" stroke-width="1.20"/><line x1="356.8" y1="358.2" x2="354.7" y2="362.2" stroke="#3a93ea" stroke-width="1.20"/><line x1="356.8" y1="358.2" x2="358.9" y2="362.2" stroke="#3a93ea" stroke-width="1.20"/>
<line x1="384.1" y1="420.3" x2="397.2" y2="394.1" stroke="#ff2d2d" stroke-width="0.90"/><line x1="397.2" y1="394.1" x2="393.5" y2="396.7" stroke="#ff2d2d" stroke-width="0.90"/><line x1="397.2" y1="394.1" x2="397.3" y2="398.6" stroke="#ff2d2d" stroke-width="0.90"/>
<line x1="380.0" y1="424.4" x2="388.2" y2="431.7" stroke="#333" stroke-width="0.90"/><line x1="388.2" y1="431.7" x2="386.6" y2="427.5" stroke="#333" stroke-width="0.90"/><line x1="388.2" y1="431.7" x2="383.8" y2="430.6" stroke="#333" stroke-width="0.90"/>
<line x1="486.5" y1="329.7" x2="479.0" y2="321.8" stroke="#1a72e6" stroke-width="0.90"/><line x1="479.0" y1="321.8" x2="480.2" y2="326.1" stroke="#1a72e6" stroke-width="0.90"/><line x1="479.0" y1="321.8" x2="483.3" y2="323.2" stroke="#1a72e6" stroke-width="0.90"/>
<line x1="511.6" y1="370.8" x2="511.6" y2="362.2" stroke="#ff2d2d" stroke-width="0.90"/><line x1="511.6" y1="362.2" x2="509.5" y2="366.2" stroke="#ff2d2d" stroke-width="0.90"/><line x1="511.6" y1="362.2" x2="513.7" y2="366.2" stroke="#ff2d2d" stroke-width="0.90"/>
<line x1="495.4" y1="400.6" x2="501.1" y2="415.0" stroke="#333" stroke-width="0.90"/><line x1="501.1" y1="415.0" x2="501.6" y2="410.5" stroke="#333" stroke-width="0.90"/><line x1="501.1" y1="415.0" x2="497.7" y2="412.1" stroke="#333" stroke-width="0.90"/>
<rect x="326.4" y="270.3" width="216.3" height="175.4" fill="none" stroke="#3a3a3a" stroke-width="1.40"/>
</svg></body></html>
